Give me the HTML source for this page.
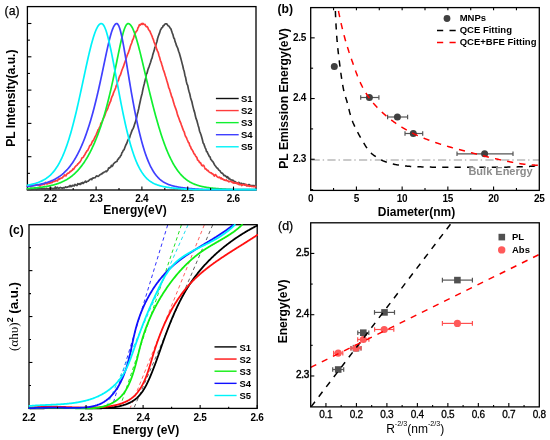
<!DOCTYPE html>
<html><head><meta charset="utf-8"><style>
html,body{margin:0;padding:0;background:#fff;}
body{width:550px;height:440px;position:relative;overflow:hidden;}
</style></head><body>
<svg width="550" height="440" viewBox="0 0 550 440" style="position:absolute;left:0;top:0">
<rect width="550" height="440" fill="#fff"/>
<g font-family="'Liberation Sans', Arial, sans-serif">
<rect x="27.4" y="6.6" width="228.6" height="183.4" fill="none" stroke="#000" stroke-width="1.3"/>
<path d="M27.4,189.4 L28.1,189.37 L28.8,189.35 L29.5,189.32 L30.2,189.6 L30.9,188.12 L31.6,189.43 L32.3,188.95 L33,188.98 L33.7,189.06 L34.4,188.22 L35.1,188.99 L35.8,188.68 L36.5,189.6 L37.2,189.11 L37.9,188.82 L38.6,188.82 L39.3,188.62 L40,188.41 L40.7,188.68 L41.4,189.04 L42.1,188.69 L42.8,189.2 L43.5,188.64 L44.2,188.71 L44.9,189.37 L45.6,188.88 L46.3,188.38 L47,188.49 L47.7,188.78 L48.4,189.38 L49.1,188.36 L49.8,188.34 L50.5,188.87 L51.2,187.99 L51.9,188.23 L52.6,188.73 L53.3,188.56 L54,188.31 L54.7,188.54 L55.4,186.93 L56.1,188.63 L56.8,187.7 L57.5,187.35 L58.2,188.18 L58.9,188.33 L59.6,187.77 L60.3,187.43 L61,187.87 L61.7,187.77 L62.4,188.35 L63.1,187.97 L63.8,187.63 L64.5,187.95 L65.2,187.25 L65.9,186.82 L66.6,187.38 L67.3,187.26 L68,186.78 L68.7,186.41 L69.4,186.74 L70.1,185.39 L70.8,186.68 L71.5,186.45 L72.2,185.34 L72.9,185.94 L73.6,185.31 L74.3,185.92 L75,184.48 L75.7,184.8 L76.4,185.34 L77.1,185.35 L77.8,183.65 L78.5,184.19 L79.2,184.34 L79.9,183.69 L80.6,184.45 L81.3,182.96 L82,183.4 L82.7,182.5 L83.4,183.33 L84.1,182.41 L84.8,181.97 L85.5,181.07 L86.2,182.29 L86.9,181.57 L87.6,181.26 L88.3,181.12 L89,180.45 L89.7,179.69 L90.4,179.29 L91.1,178.97 L91.8,179.63 L92.5,178.03 L93.2,178.08 L93.9,177.87 L94.6,177.78 L95.3,177.59 L96,176.41 L96.7,175.83 L97.4,176.24 L98.1,176.41 L98.8,175.82 L99.5,175.17 L100.2,174.52 L100.9,174.38 L101.6,173.71 L102.3,173.75 L103,172.58 L103.7,172.54 L104.4,171.96 L105.1,171.77 L105.8,171.13 L106.5,171.66 L107.2,170.66 L107.9,170.11 L108.6,167.95 L109.3,168.13 L110,167.41 L110.7,167.3 L111.4,165.39 L112.1,166.28 L112.8,165.55 L113.5,163.78 L114.2,163.19 L114.9,162.51 L115.6,162.1 L116.3,161.55 L117,161.34 L117.7,159.45 L118.4,158.97 L119.1,157.74 L119.8,157.48 L120.5,155.98 L121.2,155.13 L121.9,152.81 L122.6,151.9 L123.3,150.26 L124,149.87 L124.7,148.01 L125.4,146.06 L126.1,144.45 L126.8,143.3 L127.5,141.19 L128.2,139.51 L128.9,138.57 L129.6,137.89 L130.3,135.09 L131,133.34 L131.7,131.41 L132.4,129.62 L133.1,128.67 L133.8,126.94 L134.5,124.58 L135.2,122.63 L135.9,120.29 L136.6,117.77 L137.3,114.21 L138,111.66 L138.7,108.75 L139.4,105.1 L140.1,101.98 L140.8,98.63 L141.5,95.78 L142.2,93.2 L142.9,89.45 L143.6,86.38 L144.3,83.7 L145,80.63 L145.7,78.29 L146.4,74.01 L147.1,72.93 L147.8,70.04 L148.5,68.13 L149.2,66.32 L149.9,64.34 L150.6,62.24 L151.3,59.73 L152,58.22 L152.7,55.12 L153.4,52.83 L154.1,50.83 L154.8,47.77 L155.5,46.53 L156.2,43.58 L156.9,41.74 L157.6,38.48 L158.3,36.19 L159,34.42 L159.7,32.64 L160.4,30.15 L161.1,29.03 L161.8,27.77 L162.5,27.55 L163.2,25.65 L163.9,25.67 L164.6,24.33 L165.3,23.85 L166,23.89 L166.7,23.84 L167.4,24.79 L168.1,25.69 L168.8,25.95 L169.5,26.91 L170.2,28.21 L170.9,28.88 L171.6,30.92 L172.3,33.11 L173,34.78 L173.7,37.84 L174.4,38.65 L175.1,41.64 L175.8,43.23 L176.5,45.65 L177.2,47.04 L177.9,48.69 L178.6,51.28 L179.3,53.03 L180,55.48 L180.7,58.04 L181.4,60.62 L182.1,63.41 L182.8,66.03 L183.5,69.28 L184.2,71.35 L184.9,75.13 L185.6,77.45 L186.3,81.27 L187,84.11 L187.7,85.43 L188.4,89.12 L189.1,91.73 L189.8,94.03 L190.5,97.42 L191.2,99.66 L191.9,101.75 L192.6,105.11 L193.3,107.84 L194,110.61 L194.7,112.64 L195.4,116.06 L196.1,118.67 L196.8,120.33 L197.5,123 L198.2,125.64 L198.9,127.81 L199.6,131.25 L200.3,132.94 L201,134.75 L201.7,137.15 L202.4,139.71 L203.1,142.91 L203.8,143.82 L204.5,145.85 L205.2,147.77 L205.9,149.11 L206.6,151.7 L207.3,151.92 L208,153.92 L208.7,155.04 L209.4,156.57 L210.1,157.04 L210.8,159.59 L211.5,159.91 L212.2,161.1 L212.9,161.73 L213.6,162.84 L214.3,164.39 L215,165.5 L215.7,166.29 L216.4,167.37 L217.1,167.99 L217.8,168.51 L218.5,169.68 L219.2,170.35 L219.9,170.8 L220.6,171.9 L221.3,172.86 L222,173.07 L222.7,173.47 L223.4,174.58 L224.1,175.72 L224.8,175.35 L225.5,175.96 L226.2,176.47 L226.9,177.58 L227.6,176.67 L228.3,178.13 L229,178.96 L229.7,178.51 L230.4,179.99 L231.1,179.99 L231.8,179.92 L232.5,180.67 L233.2,180.28 L233.9,181.09 L234.6,182.52 L235.3,181.63 L236,183.18 L236.7,182.6 L237.4,183.35 L238.1,183.16 L238.8,182.34 L239.5,183.27 L240.2,183.77 L240.9,183.32 L241.6,183.38 L242.3,184.29 L243,183.98 L243.7,183.64 L244.4,184.23 L245.1,185.05 L245.8,184.57 L246.5,185.32 L247.2,185.69 L247.9,185.12 L248.6,184.69 L249.3,184.7 L250,185.35 L250.7,185.43 L251.4,185.48 L252.1,185.53 L252.8,185.56 L253.5,185.59 L254.2,185.6" fill="none" stroke="#484848" stroke-width="1.7" stroke-linejoin="round" stroke-linecap="round" />
<path d="M27.4,186.07 L28.1,186.02 L28.8,185.97 L29.5,185.92 L30.2,186.27 L30.9,185.94 L31.6,186 L32.3,185.5 L33,185.77 L33.7,185.35 L34.4,185.35 L35.1,184.84 L35.8,184.64 L36.5,185.05 L37.2,184.68 L37.9,184.66 L38.6,185.3 L39.3,184.85 L40,186.1 L40.7,185.1 L41.4,184.29 L42.1,184.8 L42.8,184.49 L43.5,183.89 L44.2,184.56 L44.9,183.57 L45.6,182.39 L46.3,183.97 L47,183.17 L47.7,183.95 L48.4,182.81 L49.1,182.38 L49.8,183.41 L50.5,182.03 L51.2,182.39 L51.9,182.73 L52.6,181.89 L53.3,181.56 L54,181.39 L54.7,181.46 L55.4,180.45 L56.1,180.8 L56.8,180.49 L57.5,180.97 L58.2,179.45 L58.9,178.85 L59.6,179.25 L60.3,178.38 L61,178.31 L61.7,177.85 L62.4,177.91 L63.1,176.67 L63.8,176.49 L64.5,174.93 L65.2,175.21 L65.9,175.82 L66.6,174.32 L67.3,173.79 L68,173.03 L68.7,173.28 L69.4,172.53 L70.1,171.32 L70.8,171.55 L71.5,170.73 L72.2,170.3 L72.9,169.01 L73.6,169.39 L74.3,168.08 L75,167.11 L75.7,166.17 L76.4,165.52 L77.1,165.22 L77.8,163.89 L78.5,163.65 L79.2,162.56 L79.9,162.02 L80.6,160.87 L81.3,159.54 L82,157.75 L82.7,157.77 L83.4,156.98 L84.1,155.67 L84.8,154.8 L85.5,153.26 L86.2,152.2 L86.9,150.83 L87.6,150.72 L88.3,149.01 L89,147.52 L89.7,145.92 L90.4,145.21 L91.1,144.67 L91.8,142.94 L92.5,141.1 L93.2,140.74 L93.9,139.38 L94.6,137.81 L95.3,136.32 L96,135.07 L96.7,133.35 L97.4,132 L98.1,129.82 L98.8,129.34 L99.5,127.25 L100.2,126.52 L100.9,123.13 L101.6,122.79 L102.3,121.32 L103,119.11 L103.7,117.84 L104.4,116.33 L105.1,114.6 L105.8,112.42 L106.5,110.91 L107.2,109.72 L107.9,108.12 L108.6,105.86 L109.3,104.1 L110,102.4 L110.7,101 L111.4,98.28 L112.1,96.36 L112.8,95.21 L113.5,92.83 L114.2,91.24 L114.9,89.7 L115.6,88.03 L116.3,85.46 L117,84.43 L117.7,81.39 L118.4,80.54 L119.1,77.67 L119.8,75.89 L120.5,74.83 L121.2,72.41 L121.9,70.29 L122.6,68.48 L123.3,66.92 L124,64.7 L124.7,62.71 L125.4,61.2 L126.1,58.39 L126.8,56.48 L127.5,54.43 L128.2,53.16 L128.9,51.06 L129.6,49.17 L130.3,46.57 L131,44.52 L131.7,43 L132.4,40.5 L133.1,39.16 L133.8,37.26 L134.5,34.84 L135.2,33.42 L135.9,31.8 L136.6,31.13 L137.3,30.14 L138,27.69 L138.7,26.66 L139.4,24.72 L140.1,25.11 L140.8,24.47 L141.5,23.65 L142.2,24.36 L142.9,23.35 L143.6,24.14 L144.3,24.62 L145,24.45 L145.7,25.98 L146.4,26.79 L147.1,26.53 L147.8,27.48 L148.5,29.45 L149.2,30.35 L149.9,31.11 L150.6,32.91 L151.3,34.48 L152,36.03 L152.7,38.12 L153.4,39.65 L154.1,42.07 L154.8,43.76 L155.5,45.37 L156.2,47.52 L156.9,49.66 L157.6,51.45 L158.3,52.69 L159,55.77 L159.7,57.59 L160.4,60.49 L161.1,62.03 L161.8,64.46 L162.5,66.64 L163.2,69.52 L163.9,71.12 L164.6,73.21 L165.3,75.77 L166,77.73 L166.7,80.29 L167.4,82.51 L168.1,84.93 L168.8,87.95 L169.5,89.18 L170.2,91.64 L170.9,93.78 L171.6,96.41 L172.3,97.79 L173,100.21 L173.7,102.69 L174.4,105.11 L175.1,106.99 L175.8,108.9 L176.5,110.83 L177.2,113.52 L177.9,115.98 L178.6,117.49 L179.3,119.41 L180,121.48 L180.7,122.78 L181.4,124.96 L182.1,126.84 L182.8,128.92 L183.5,130.57 L184.2,131.8 L184.9,134.58 L185.6,136.53 L186.3,137.31 L187,139.24 L187.7,140.76 L188.4,142.55 L189.1,143.05 L189.8,145.92 L190.5,146.43 L191.2,148.62 L191.9,149.46 L192.6,150.58 L193.3,152 L194,153.73 L194.7,154.17 L195.4,155.58 L196.1,156.7 L196.8,157.32 L197.5,159.77 L198.2,160.45 L198.9,161.13 L199.6,162.57 L200.3,162.5 L201,163.75 L201.7,165.39 L202.4,165.87 L203.1,165.23 L203.8,165.51 L204.5,167.29 L205.2,168.95 L205.9,168.92 L206.6,169.64 L207.3,170.58 L208,170.45 L208.7,171.46 L209.4,172.22 L210.1,172.55 L210.8,172.97 L211.5,172.96 L212.2,173.89 L212.9,173.87 L213.6,175.05 L214.3,175.99 L215,174.87 L215.7,174.64 L216.4,175.83 L217.1,176.58 L217.8,177.25 L218.5,177.62 L219.2,177.13 L219.9,177.46 L220.6,178.7 L221.3,177.94 L222,179.21 L222.7,178.9 L223.4,179.62 L224.1,179.87 L224.8,180.16 L225.5,180.43 L226.2,179.87 L226.9,180.69 L227.6,180.8 L228.3,181.16 L229,181.8 L229.7,181.34 L230.4,181.35 L231.1,181.55 L231.8,181.94 L232.5,182.62 L233.2,182.1 L233.9,183.18 L234.6,182.97 L235.3,182.92 L236,182.59 L236.7,183.47 L237.4,183.84 L238.1,182.9 L238.8,184.39 L239.5,184.76 L240.2,184.32 L240.9,184.55 L241.6,185.56 L242.3,185.18 L243,184.37 L243.7,184.91 L244.4,184.99 L245.1,185.13 L245.8,184.27 L246.5,185.81 L247.2,185.31 L247.9,185.79 L248.6,185.78 L249.3,186.35 L250,185.94 L250.7,186.18 L251.4,186.29 L252.1,186.39 L252.8,186.49 L253.5,186.58 L254.2,186.66 L254.9,186.66 L255.6,186.66" fill="none" stroke="#ff3c3c" stroke-width="1.7" stroke-linejoin="round" stroke-linecap="round" />
<path d="M27.4,188.57 L27.9,188.54 L28.4,188.5 L28.9,188.46 L29.4,188.43 L29.9,188.39 L30.4,188.35 L30.9,188.31 L31.4,188.27 L31.9,188.22 L32.4,188.18 L32.9,188.14 L33.4,188.09 L33.9,188.05 L34.4,188 L34.9,187.95 L35.4,187.9 L35.9,187.85 L36.4,187.8 L36.9,187.75 L37.4,187.7 L37.9,187.64 L38.4,187.59 L38.9,187.53 L39.4,187.47 L39.9,187.41 L40.4,187.35 L40.9,187.28 L41.4,187.22 L41.9,187.15 L42.4,187.08 L42.9,187.01 L43.4,186.94 L43.9,186.86 L44.4,186.79 L44.9,186.71 L45.4,186.63 L45.9,186.54 L46.4,186.46 L46.9,186.37 L47.4,186.28 L47.9,186.18 L48.4,186.09 L48.9,185.99 L49.4,185.89 L49.9,185.78 L50.4,185.67 L50.9,185.56 L51.4,185.45 L51.9,185.33 L52.4,185.21 L52.9,185.08 L53.4,184.95 L53.9,184.82 L54.4,184.68 L54.9,184.54 L55.4,184.39 L55.9,184.24 L56.4,184.08 L56.9,183.92 L57.4,183.76 L57.9,183.59 L58.4,183.41 L58.9,183.23 L59.4,183.04 L59.9,182.85 L60.4,182.65 L60.9,182.45 L61.4,182.24 L61.9,182.02 L62.4,181.79 L62.9,181.56 L63.4,181.32 L63.9,181.08 L64.4,180.82 L64.9,180.56 L65.4,180.29 L65.9,180.02 L66.4,179.73 L66.9,179.44 L67.4,179.13 L67.9,178.82 L68.4,178.5 L68.9,178.17 L69.4,177.83 L69.9,177.48 L70.4,177.12 L70.9,176.75 L71.4,176.37 L71.9,175.98 L72.4,175.57 L72.9,175.16 L73.4,174.73 L73.9,174.29 L74.4,173.84 L74.9,173.38 L75.4,172.91 L75.9,172.42 L76.4,171.92 L76.9,171.4 L77.4,170.88 L77.9,170.33 L78.4,169.78 L78.9,169.21 L79.4,168.62 L79.9,168.02 L80.4,167.41 L80.9,166.78 L81.4,166.14 L81.9,165.48 L82.4,164.8 L82.9,164.11 L83.4,163.4 L83.9,162.67 L84.4,161.93 L84.9,161.16 L85.4,160.39 L85.9,159.59 L86.4,158.77 L86.9,157.94 L87.4,157.09 L87.9,156.22 L88.4,155.33 L88.9,154.42 L89.4,153.49 L89.9,152.54 L90.4,151.57 L90.9,150.58 L91.4,149.57 L91.9,148.54 L92.4,147.49 L92.9,146.41 L93.4,145.31 L93.9,144.19 L94.4,143.05 L94.9,141.88 L95.4,140.69 L95.9,139.48 L96.4,138.24 L96.9,136.97 L97.4,135.68 L97.9,134.37 L98.4,133.03 L98.9,131.66 L99.4,130.26 L99.9,128.84 L100.4,127.39 L100.9,125.91 L101.4,124.4 L101.9,122.86 L102.4,121.28 L102.9,119.68 L103.4,118.05 L103.9,116.38 L104.4,114.68 L104.9,112.95 L105.4,111.18 L105.9,109.38 L106.4,107.54 L106.9,105.67 L107.4,103.76 L107.9,101.81 L108.4,99.83 L108.9,97.81 L109.4,95.75 L109.9,93.66 L110.4,91.53 L110.9,89.36 L111.4,87.15 L111.9,84.91 L112.4,82.64 L112.9,80.33 L113.4,78 L113.9,75.63 L114.4,73.24 L114.9,70.82 L115.4,68.39 L115.9,65.94 L116.4,63.48 L116.9,61.01 L117.4,58.54 L117.9,56.08 L118.4,53.64 L118.9,51.22 L119.4,48.83 L119.9,46.48 L120.4,44.18 L120.9,41.95 L121.4,39.79 L121.9,37.71 L122.4,35.74 L122.9,33.87 L123.4,32.12 L123.9,30.51 L124.4,29.04 L124.9,27.73 L125.4,26.58 L125.9,25.61 L126.4,24.83 L126.9,24.23 L127.4,23.83 L127.9,23.63 L128.4,23.61 L128.9,23.74 L129.4,23.98 L129.9,24.35 L130.4,24.83 L130.9,25.44 L131.4,26.16 L131.9,26.99 L132.4,27.93 L132.9,28.97 L133.4,30.11 L133.9,31.34 L134.4,32.67 L134.9,34.07 L135.4,35.56 L135.9,37.12 L136.4,38.75 L136.9,40.44 L137.4,42.19 L137.9,43.99 L138.4,45.84 L138.9,47.74 L139.4,49.67 L139.9,51.64 L140.4,53.64 L140.9,55.66 L141.4,57.71 L141.9,59.78 L142.4,61.87 L142.9,63.97 L143.4,66.08 L143.9,68.19 L144.4,70.32 L144.9,72.44 L145.4,74.57 L145.9,76.69 L146.4,78.82 L146.9,80.94 L147.4,83.05 L147.9,85.15 L148.4,87.24 L148.9,89.33 L149.4,91.4 L149.9,93.46 L150.4,95.5 L150.9,97.53 L151.4,99.54 L151.9,101.53 L152.4,103.51 L152.9,105.46 L153.4,107.4 L153.9,109.32 L154.4,111.21 L154.9,113.08 L155.4,114.93 L155.9,116.76 L156.4,118.56 L156.9,120.34 L157.4,122.09 L157.9,123.82 L158.4,125.53 L158.9,127.21 L159.4,128.86 L159.9,130.48 L160.4,132.08 L160.9,133.65 L161.4,135.2 L161.9,136.71 L162.4,138.2 L162.9,139.66 L163.4,141.09 L163.9,142.5 L164.4,143.88 L164.9,145.23 L165.4,146.55 L165.9,147.84 L166.4,149.1 L166.9,150.34 L167.4,151.55 L167.9,152.73 L168.4,153.89 L168.9,155.01 L169.4,156.11 L169.9,157.19 L170.4,158.23 L170.9,159.25 L171.4,160.24 L171.9,161.21 L172.4,162.15 L172.9,163.07 L173.4,163.96 L173.9,164.83 L174.4,165.67 L174.9,166.49 L175.4,167.28 L175.9,168.05 L176.4,168.8 L176.9,169.53 L177.4,170.23 L177.9,170.91 L178.4,171.57 L178.9,172.21 L179.4,172.83 L179.9,173.44 L180.4,174.02 L180.9,174.58 L181.4,175.12 L181.9,175.65 L182.4,176.15 L182.9,176.64 L183.4,177.12 L183.9,177.58 L184.4,178.02 L184.9,178.44 L185.4,178.85 L185.9,179.25 L186.4,179.63 L186.9,180 L187.4,180.36 L187.9,180.7 L188.4,181.03 L188.9,181.34 L189.4,181.65 L189.9,181.94 L190.4,182.23 L190.9,182.5 L191.4,182.76 L191.9,183.02 L192.4,183.26 L192.9,183.49 L193.4,183.72 L193.9,183.93 L194.4,184.14 L194.9,184.34 L195.4,184.53 L195.9,184.72 L196.4,184.9 L196.9,185.07 L197.4,185.23 L197.9,185.39 L198.4,185.54 L198.9,185.69 L199.4,185.83 L199.9,185.97 L200.4,186.1 L200.9,186.22 L201.4,186.34 L201.9,186.46 L202.4,186.57 L202.9,186.68 L203.4,186.78 L203.9,186.88 L204.4,186.98 L204.9,187.07 L205.4,187.16 L205.9,187.25 L206.4,187.34 L206.9,187.42 L207.4,187.49 L207.9,187.57 L208.4,187.64 L208.9,187.71 L209.4,187.78 L209.9,187.85 L210.4,187.91 L210.9,187.97 L211.4,188.03 L211.9,188.09 L212.4,188.15 L212.9,188.2 L213.4,188.26 L213.9,188.31 L214.4,188.36 L214.9,188.41 L215.4,188.45 L215.9,188.5 L216.4,188.55 L216.9,188.59 L217.4,188.63 L217.9,188.67 L218.4,188.71 L218.9,188.75 L219.4,188.79 L219.9,188.83 L220.4,188.87 L220.9,188.9 L221.4,188.94 L221.9,188.97 L222.4,189.01 L222.9,189.04 L223.4,189.07 L223.9,189.1 L224.4,189.13 L224.9,189.16 L225.4,189.19 L225.9,189.22 L226.4,189.25 L226.9,189.28 L227.4,189.31 L227.9,189.33 L228.4,189.36 L228.9,189.39 L229.4,189.41 L229.9,189.44 L230.4,189.46 L230.9,189.49 L231.4,189.51 L231.9,189.54 L232.4,189.56 L232.9,189.58 L233.4,189.6 L233.9,189.6 L234.4,189.6 L234.9,189.6 L235.4,189.6 L235.9,189.6 L236.4,189.6 L236.9,189.6 L237.4,189.6 L237.9,189.6 L238.4,189.6 L238.9,189.6 L239.4,189.6 L239.9,189.6 L240.4,189.6 L240.9,189.6 L241.4,189.6 L241.9,189.6 L242.4,189.6 L242.9,189.6 L243.4,189.6 L243.9,189.6 L244.4,189.6 L244.9,189.6 L245.4,189.6 L245.9,189.6 L246.4,189.6 L246.9,189.6 L247.4,189.6 L247.9,189.6 L248.4,189.6 L248.9,189.6 L249.4,189.6 L249.9,189.6 L250.4,189.6 L250.9,189.6 L251.4,189.6 L251.9,189.6 L252.4,189.6 L252.9,189.6 L253.4,189.6 L253.9,189.6 L254.4,189.6 L254.9,189.6 L255.4,189.6 L255.9,189.6" fill="none" stroke="#10f030" stroke-width="1.7" stroke-linejoin="round" stroke-linecap="round" />
<path d="M27.4,186.49 L27.9,186.43 L28.4,186.36 L28.9,186.3 L29.4,186.23 L29.9,186.16 L30.4,186.09 L30.9,186.02 L31.4,185.95 L31.9,185.87 L32.4,185.8 L32.9,185.72 L33.4,185.64 L33.9,185.56 L34.4,185.47 L34.9,185.39 L35.4,185.3 L35.9,185.21 L36.4,185.12 L36.9,185.03 L37.4,184.93 L37.9,184.83 L38.4,184.73 L38.9,184.63 L39.4,184.52 L39.9,184.41 L40.4,184.3 L40.9,184.19 L41.4,184.07 L41.9,183.95 L42.4,183.82 L42.9,183.69 L43.4,183.56 L43.9,183.43 L44.4,183.29 L44.9,183.14 L45.4,183 L45.9,182.85 L46.4,182.69 L46.9,182.53 L47.4,182.36 L47.9,182.19 L48.4,182.02 L48.9,181.84 L49.4,181.65 L49.9,181.46 L50.4,181.26 L50.9,181.06 L51.4,180.85 L51.9,180.63 L52.4,180.41 L52.9,180.18 L53.4,179.94 L53.9,179.7 L54.4,179.45 L54.9,179.19 L55.4,178.92 L55.9,178.64 L56.4,178.36 L56.9,178.07 L57.4,177.76 L57.9,177.45 L58.4,177.13 L58.9,176.8 L59.4,176.46 L59.9,176.11 L60.4,175.74 L60.9,175.37 L61.4,174.98 L61.9,174.59 L62.4,174.18 L62.9,173.75 L63.4,173.32 L63.9,172.87 L64.4,172.41 L64.9,171.94 L65.4,171.45 L65.9,170.94 L66.4,170.43 L66.9,169.89 L67.4,169.35 L67.9,168.78 L68.4,168.2 L68.9,167.6 L69.4,166.99 L69.9,166.36 L70.4,165.71 L70.9,165.05 L71.4,164.36 L71.9,163.66 L72.4,162.94 L72.9,162.2 L73.4,161.43 L73.9,160.65 L74.4,159.85 L74.9,159.03 L75.4,158.18 L75.9,157.32 L76.4,156.43 L76.9,155.52 L77.4,154.59 L77.9,153.63 L78.4,152.65 L78.9,151.65 L79.4,150.63 L79.9,149.57 L80.4,148.5 L80.9,147.4 L81.4,146.27 L81.9,145.11 L82.4,143.93 L82.9,142.73 L83.4,141.49 L83.9,140.23 L84.4,138.94 L84.9,137.63 L85.4,136.28 L85.9,134.9 L86.4,133.5 L86.9,132.07 L87.4,130.6 L87.9,129.11 L88.4,127.58 L88.9,126.02 L89.4,124.43 L89.9,122.81 L90.4,121.16 L90.9,119.48 L91.4,117.76 L91.9,116.01 L92.4,114.22 L92.9,112.41 L93.4,110.55 L93.9,108.67 L94.4,106.75 L94.9,104.8 L95.4,102.81 L95.9,100.8 L96.4,98.74 L96.9,96.66 L97.4,94.54 L97.9,92.4 L98.4,90.22 L98.9,88.01 L99.4,85.78 L99.9,83.52 L100.4,81.23 L100.9,78.92 L101.4,76.59 L101.9,74.24 L102.4,71.88 L102.9,69.5 L103.4,67.12 L103.9,64.73 L104.4,62.35 L104.9,59.97 L105.4,57.6 L105.9,55.25 L106.4,52.92 L106.9,50.62 L107.4,48.36 L107.9,46.14 L108.4,43.98 L108.9,41.88 L109.4,39.85 L109.9,37.9 L110.4,36.04 L110.9,34.27 L111.4,32.61 L111.9,31.07 L112.4,29.65 L112.9,28.37 L113.4,27.22 L113.9,26.22 L114.4,25.38 L114.9,24.69 L115.4,24.17 L115.9,23.82 L116.4,23.63 L116.9,23.62 L117.4,23.87 L117.9,24.4 L118.4,25.18 L118.9,26.23 L119.4,27.52 L119.9,29.04 L120.4,30.78 L120.9,32.73 L121.4,34.86 L121.9,37.15 L122.4,39.59 L122.9,42.16 L123.4,44.85 L123.9,47.63 L124.4,50.49 L124.9,53.42 L125.4,56.39 L125.9,59.41 L126.4,62.45 L126.9,65.51 L127.4,68.58 L127.9,71.64 L128.4,74.7 L128.9,77.74 L129.4,80.76 L129.9,83.76 L130.4,86.72 L130.9,89.65 L131.4,92.55 L131.9,95.4 L132.4,98.22 L132.9,100.99 L133.4,103.71 L133.9,106.39 L134.4,109.01 L134.9,111.59 L135.4,114.12 L135.9,116.6 L136.4,119.02 L136.9,121.4 L137.4,123.72 L137.9,125.99 L138.4,128.2 L138.9,130.36 L139.4,132.47 L139.9,134.53 L140.4,136.53 L140.9,138.48 L141.4,140.38 L141.9,142.22 L142.4,144.01 L142.9,145.75 L143.4,147.44 L143.9,149.08 L144.4,150.67 L144.9,152.2 L145.4,153.69 L145.9,155.13 L146.4,156.52 L146.9,157.87 L147.4,159.16 L147.9,160.42 L148.4,161.62 L148.9,162.79 L149.4,163.91 L149.9,164.99 L150.4,166.02 L150.9,167.02 L151.4,167.98 L151.9,168.9 L152.4,169.78 L152.9,170.63 L153.4,171.44 L153.9,172.22 L154.4,172.97 L154.9,173.68 L155.4,174.37 L155.9,175.02 L156.4,175.64 L156.9,176.24 L157.4,176.81 L157.9,177.36 L158.4,177.88 L158.9,178.37 L159.4,178.85 L159.9,179.3 L160.4,179.73 L160.9,180.14 L161.4,180.53 L161.9,180.91 L162.4,181.26 L162.9,181.6 L163.4,181.92 L163.9,182.23 L164.4,182.53 L164.9,182.81 L165.4,183.07 L165.9,183.33 L166.4,183.57 L166.9,183.8 L167.4,184.02 L167.9,184.23 L168.4,184.43 L168.9,184.63 L169.4,184.81 L169.9,184.98 L170.4,185.15 L170.9,185.31 L171.4,185.47 L171.9,185.61 L172.4,185.75 L172.9,185.89 L173.4,186.02 L173.9,186.14 L174.4,186.26 L174.9,186.38 L175.4,186.49 L175.9,186.59 L176.4,186.7 L176.9,186.8 L177.4,186.89 L177.9,186.98 L178.4,187.07 L178.9,187.16 L179.4,187.24 L179.9,187.32 L180.4,187.4 L180.9,187.47 L181.4,187.55 L181.9,187.62 L182.4,187.69 L182.9,187.75 L183.4,187.82 L183.9,187.88 L184.4,187.94 L184.9,188 L185.4,188.06 L185.9,188.12 L186.4,188.18 L186.9,188.23 L187.4,188.28 L187.9,188.33 L188.4,188.38 L188.9,188.43 L189.4,188.48 L189.9,188.53 L190.4,188.58 L190.9,188.62 L191.4,188.66 L191.9,188.71 L192.4,188.75 L192.9,188.79 L193.4,188.83 L193.9,188.87 L194.4,188.91 L194.9,188.95 L195.4,188.99 L195.9,189.02 L196.4,189.06 L196.9,189.1 L197.4,189.13 L197.9,189.17 L198.4,189.2 L198.9,189.23 L199.4,189.26 L199.9,189.3 L200.4,189.33 L200.9,189.36 L201.4,189.39 L201.9,189.42 L202.4,189.45 L202.9,189.48 L203.4,189.51 L203.9,189.53 L204.4,189.56 L204.9,189.59 L205.4,189.6 L205.9,189.6 L206.4,189.6 L206.9,189.6 L207.4,189.6 L207.9,189.6 L208.4,189.6 L208.9,189.6 L209.4,189.6 L209.9,189.6 L210.4,189.6 L210.9,189.6 L211.4,189.6 L211.9,189.6 L212.4,189.6 L212.9,189.6 L213.4,189.6 L213.9,189.6 L214.4,189.6 L214.9,189.6 L215.4,189.6 L215.9,189.6 L216.4,189.6 L216.9,189.6 L217.4,189.6 L217.9,189.6 L218.4,189.6 L218.9,189.6 L219.4,189.6 L219.9,189.6 L220.4,189.6 L220.9,189.6 L221.4,189.6 L221.9,189.6 L222.4,189.6 L222.9,189.6 L223.4,189.6 L223.9,189.6 L224.4,189.6 L224.9,189.6 L225.4,189.6 L225.9,189.6 L226.4,189.6 L226.9,189.6 L227.4,189.6 L227.9,189.6 L228.4,189.6 L228.9,189.6 L229.4,189.6 L229.9,189.6 L230.4,189.6 L230.9,189.6 L231.4,189.6 L231.9,189.6 L232.4,189.6 L232.9,189.6 L233.4,189.6 L233.9,189.6 L234.4,189.6 L234.9,189.6 L235.4,189.6 L235.9,189.6 L236.4,189.6 L236.9,189.6 L237.4,189.6 L237.9,189.6 L238.4,189.6 L238.9,189.6 L239.4,189.6 L239.9,189.6 L240.4,189.6 L240.9,189.6 L241.4,189.6 L241.9,189.6 L242.4,189.6 L242.9,189.6 L243.4,189.6 L243.9,189.6 L244.4,189.6 L244.9,189.6 L245.4,189.6 L245.9,189.6 L246.4,189.6 L246.9,189.6 L247.4,189.6 L247.9,189.6 L248.4,189.6 L248.9,189.6 L249.4,189.6 L249.9,189.6 L250.4,189.6 L250.9,189.6 L251.4,189.6 L251.9,189.6 L252.4,189.6 L252.9,189.6 L253.4,189.6 L253.9,189.6 L254.4,189.6 L254.9,189.6 L255.4,189.6 L255.9,189.6" fill="none" stroke="#4040ff" stroke-width="1.7" stroke-linejoin="round" stroke-linecap="round" />
<path d="M27.4,185.25 L27.9,185.16 L28.4,185.06 L28.9,184.96 L29.4,184.86 L29.9,184.76 L30.4,184.65 L30.9,184.54 L31.4,184.42 L31.9,184.3 L32.4,184.18 L32.9,184.06 L33.4,183.93 L33.9,183.79 L34.4,183.66 L34.9,183.51 L35.4,183.37 L35.9,183.21 L36.4,183.06 L36.9,182.89 L37.4,182.72 L37.9,182.55 L38.4,182.36 L38.9,182.18 L39.4,181.98 L39.9,181.78 L40.4,181.57 L40.9,181.35 L41.4,181.12 L41.9,180.88 L42.4,180.63 L42.9,180.38 L43.4,180.11 L43.9,179.84 L44.4,179.55 L44.9,179.25 L45.4,178.94 L45.9,178.61 L46.4,178.28 L46.9,177.92 L47.4,177.56 L47.9,177.18 L48.4,176.78 L48.9,176.37 L49.4,175.94 L49.9,175.5 L50.4,175.04 L50.9,174.55 L51.4,174.05 L51.9,173.53 L52.4,172.99 L52.9,172.43 L53.4,171.84 L53.9,171.23 L54.4,170.6 L54.9,169.95 L55.4,169.27 L55.9,168.56 L56.4,167.83 L56.9,167.07 L57.4,166.29 L57.9,165.47 L58.4,164.63 L58.9,163.75 L59.4,162.85 L59.9,161.92 L60.4,160.95 L60.9,159.95 L61.4,158.92 L61.9,157.85 L62.4,156.75 L62.9,155.62 L63.4,154.45 L63.9,153.24 L64.4,152 L64.9,150.72 L65.4,149.4 L65.9,148.05 L66.4,146.66 L66.9,145.23 L67.4,143.77 L67.9,142.26 L68.4,140.72 L68.9,139.14 L69.4,137.53 L69.9,135.87 L70.4,134.18 L70.9,132.44 L71.4,130.68 L71.9,128.87 L72.4,127.03 L72.9,125.15 L73.4,123.24 L73.9,121.29 L74.4,119.31 L74.9,117.3 L75.4,115.26 L75.9,113.18 L76.4,111.08 L76.9,108.94 L77.4,106.78 L77.9,104.6 L78.4,102.39 L78.9,100.16 L79.4,97.9 L79.9,95.63 L80.4,93.35 L80.9,91.04 L81.4,88.73 L81.9,86.41 L82.4,84.07 L82.9,81.74 L83.4,79.4 L83.9,77.06 L84.4,74.73 L84.9,72.4 L85.4,70.08 L85.9,67.77 L86.4,65.49 L86.9,63.22 L87.4,60.97 L87.9,58.75 L88.4,56.56 L88.9,54.41 L89.4,52.3 L89.9,50.23 L90.4,48.2 L90.9,46.23 L91.4,44.31 L91.9,42.45 L92.4,40.66 L92.9,38.93 L93.4,37.28 L93.9,35.7 L94.4,34.21 L94.9,32.79 L95.4,31.47 L95.9,30.24 L96.4,29.1 L96.9,28.07 L97.4,27.13 L97.9,26.3 L98.4,25.58 L98.9,24.97 L99.4,24.46 L99.9,24.08 L100.4,23.8 L100.9,23.64 L101.4,23.6 L101.9,23.71 L102.4,23.98 L102.9,24.41 L103.4,25.01 L103.9,25.77 L104.4,26.69 L104.9,27.75 L105.4,28.96 L105.9,30.31 L106.4,31.8 L106.9,33.41 L107.4,35.14 L107.9,36.98 L108.4,38.93 L108.9,40.98 L109.4,43.12 L109.9,45.33 L110.4,47.63 L110.9,49.99 L111.4,52.42 L111.9,54.89 L112.4,57.42 L112.9,59.99 L113.4,62.59 L113.9,65.23 L114.4,67.88 L114.9,70.56 L115.4,73.25 L115.9,75.95 L116.4,78.65 L116.9,81.36 L117.4,84.06 L117.9,86.75 L118.4,89.43 L118.9,92.1 L119.4,94.75 L119.9,97.38 L120.4,99.98 L120.9,102.56 L121.4,105.11 L121.9,107.63 L122.4,110.12 L122.9,112.57 L123.4,114.98 L123.9,117.36 L124.4,119.69 L124.9,121.99 L125.4,124.24 L125.9,126.44 L126.4,128.61 L126.9,130.72 L127.4,132.79 L127.9,134.81 L128.4,136.79 L128.9,138.71 L129.4,140.59 L129.9,142.41 L130.4,144.19 L130.9,145.92 L131.4,147.6 L131.9,149.23 L132.4,150.81 L132.9,152.35 L133.4,153.83 L133.9,155.27 L134.4,156.66 L134.9,158.01 L135.4,159.31 L135.9,160.56 L136.4,161.77 L136.9,162.94 L137.4,164.06 L137.9,165.14 L138.4,166.18 L138.9,167.18 L139.4,168.14 L139.9,169.06 L140.4,169.95 L140.9,170.8 L141.4,171.61 L141.9,172.39 L142.4,173.14 L142.9,173.86 L143.4,174.54 L143.9,175.19 L144.4,175.82 L144.9,176.42 L145.4,176.99 L145.9,177.53 L146.4,178.05 L146.9,178.55 L147.4,179.02 L147.9,179.47 L148.4,179.9 L148.9,180.31 L149.4,180.7 L149.9,181.07 L150.4,181.43 L150.9,181.76 L151.4,182.09 L151.9,182.39 L152.4,182.68 L152.9,182.96 L153.4,183.22 L153.9,183.48 L154.4,183.72 L154.9,183.94 L155.4,184.16 L155.9,184.37 L156.4,184.57 L156.9,184.76 L157.4,184.94 L157.9,185.11 L158.4,185.27 L158.9,185.43 L159.4,185.58 L159.9,185.72 L160.4,185.86 L160.9,185.99 L161.4,186.12 L161.9,186.24 L162.4,186.35 L162.9,186.47 L163.4,186.57 L163.9,186.67 L164.4,186.77 L164.9,186.87 L165.4,186.96 L165.9,187.05 L166.4,187.13 L166.9,187.22 L167.4,187.3 L167.9,187.37 L168.4,187.45 L168.9,187.52 L169.4,187.59 L169.9,187.66 L170.4,187.72 L170.9,187.79 L171.4,187.85 L171.9,187.91 L172.4,187.97 L172.9,188.02 L173.4,188.08 L173.9,188.13 L174.4,188.19 L174.9,188.24 L175.4,188.29 L175.9,188.34 L176.4,188.38 L176.9,188.43 L177.4,188.48 L177.9,188.52 L178.4,188.57 L178.9,188.61 L179.4,188.65 L179.9,188.69 L180.4,188.73 L180.9,188.77 L181.4,188.81 L181.9,188.85 L182.4,188.89 L182.9,188.92 L183.4,188.96 L183.9,188.99 L184.4,189.03 L184.9,189.06 L185.4,189.1 L185.9,189.13 L186.4,189.16 L186.9,189.19 L187.4,189.22 L187.9,189.25 L188.4,189.29 L188.9,189.31 L189.4,189.34 L189.9,189.37 L190.4,189.4 L190.9,189.43 L191.4,189.46 L191.9,189.48 L192.4,189.51 L192.9,189.54 L193.4,189.56 L193.9,189.59 L194.4,189.6 L194.9,189.6 L195.4,189.6 L195.9,189.6 L196.4,189.6 L196.9,189.6 L197.4,189.6 L197.9,189.6 L198.4,189.6 L198.9,189.6 L199.4,189.6 L199.9,189.6 L200.4,189.6 L200.9,189.6 L201.4,189.6 L201.9,189.6 L202.4,189.6 L202.9,189.6 L203.4,189.6 L203.9,189.6 L204.4,189.6 L204.9,189.6 L205.4,189.6 L205.9,189.6 L206.4,189.6 L206.9,189.6 L207.4,189.6 L207.9,189.6 L208.4,189.6 L208.9,189.6 L209.4,189.6 L209.9,189.6 L210.4,189.6 L210.9,189.6 L211.4,189.6 L211.9,189.6 L212.4,189.6 L212.9,189.6 L213.4,189.6 L213.9,189.6 L214.4,189.6 L214.9,189.6 L215.4,189.6 L215.9,189.6 L216.4,189.6 L216.9,189.6 L217.4,189.6 L217.9,189.6 L218.4,189.6 L218.9,189.6 L219.4,189.6 L219.9,189.6 L220.4,189.6 L220.9,189.6 L221.4,189.6 L221.9,189.6 L222.4,189.6 L222.9,189.6 L223.4,189.6 L223.9,189.6 L224.4,189.6 L224.9,189.6 L225.4,189.6 L225.9,189.6 L226.4,189.6 L226.9,189.6 L227.4,189.6 L227.9,189.6 L228.4,189.6 L228.9,189.6 L229.4,189.6 L229.9,189.6 L230.4,189.6 L230.9,189.6 L231.4,189.6 L231.9,189.6 L232.4,189.6 L232.9,189.6 L233.4,189.6 L233.9,189.6 L234.4,189.6 L234.9,189.6 L235.4,189.6 L235.9,189.6 L236.4,189.6 L236.9,189.6 L237.4,189.6 L237.9,189.6 L238.4,189.6 L238.9,189.6 L239.4,189.6 L239.9,189.6 L240.4,189.6 L240.9,189.6 L241.4,189.6 L241.9,189.6 L242.4,189.6 L242.9,189.6 L243.4,189.6 L243.9,189.6 L244.4,189.6 L244.9,189.6 L245.4,189.6 L245.9,189.6 L246.4,189.6 L246.9,189.6 L247.4,189.6 L247.9,189.6 L248.4,189.6 L248.9,189.6 L249.4,189.6 L249.9,189.6 L250.4,189.6 L250.9,189.6 L251.4,189.6 L251.9,189.6 L252.4,189.6 L252.9,189.6 L253.4,189.6 L253.9,189.6 L254.4,189.6 L254.9,189.6 L255.4,189.6 L255.9,189.6" fill="none" stroke="#00f2f8" stroke-width="1.7" stroke-linejoin="round" stroke-linecap="round" />
<line x1="27.4" y1="173.35" x2="29.9" y2="173.35" stroke="#000" stroke-width="1.1" />
<line x1="27.4" y1="156.7" x2="31.4" y2="156.7" stroke="#000" stroke-width="1.1" />
<line x1="27.4" y1="140.05" x2="29.9" y2="140.05" stroke="#000" stroke-width="1.1" />
<line x1="27.4" y1="123.4" x2="31.4" y2="123.4" stroke="#000" stroke-width="1.1" />
<line x1="27.4" y1="106.75" x2="29.9" y2="106.75" stroke="#000" stroke-width="1.1" />
<line x1="27.4" y1="90.1" x2="31.4" y2="90.1" stroke="#000" stroke-width="1.1" />
<line x1="27.4" y1="73.45" x2="29.9" y2="73.45" stroke="#000" stroke-width="1.1" />
<line x1="27.4" y1="56.8" x2="31.4" y2="56.8" stroke="#000" stroke-width="1.1" />
<line x1="27.4" y1="40.15" x2="29.9" y2="40.15" stroke="#000" stroke-width="1.1" />
<line x1="27.4" y1="23.5" x2="31.4" y2="23.5" stroke="#000" stroke-width="1.1" />
<line x1="50.3" y1="190" x2="50.3" y2="186.6" stroke="#000" stroke-width="1.1" />
<line x1="73.2" y1="190" x2="73.2" y2="188" stroke="#000" stroke-width="1.1" />
<line x1="96.1" y1="190" x2="96.1" y2="186.6" stroke="#000" stroke-width="1.1" />
<line x1="119" y1="190" x2="119" y2="188" stroke="#000" stroke-width="1.1" />
<line x1="141.9" y1="190" x2="141.9" y2="186.6" stroke="#000" stroke-width="1.1" />
<line x1="164.8" y1="190" x2="164.8" y2="188" stroke="#000" stroke-width="1.1" />
<line x1="187.7" y1="190" x2="187.7" y2="186.6" stroke="#000" stroke-width="1.1" />
<line x1="210.6" y1="190" x2="210.6" y2="188" stroke="#000" stroke-width="1.1" />
<line x1="233.5" y1="190" x2="233.5" y2="186.6" stroke="#000" stroke-width="1.1" />
<text x="50.15" y="201.8" font-size="10" font-weight="bold" text-anchor="middle" fill="#000"  letter-spacing="-0.3">2.2</text>
<text x="95.95" y="201.8" font-size="10" font-weight="bold" text-anchor="middle" fill="#000"  letter-spacing="-0.3">2.3</text>
<text x="141.75" y="201.8" font-size="10" font-weight="bold" text-anchor="middle" fill="#000"  letter-spacing="-0.3">2.4</text>
<text x="187.55" y="201.8" font-size="10" font-weight="bold" text-anchor="middle" fill="#000"  letter-spacing="-0.3">2.5</text>
<text x="233.35" y="201.8" font-size="10" font-weight="bold" text-anchor="middle" fill="#000"  letter-spacing="-0.3">2.6</text>
<line x1="215.9" y1="98.5" x2="238.7" y2="98.5" stroke="#111" stroke-width="1.4" />
<text x="241" y="102.1" font-size="9.5" font-weight="bold" text-anchor="start" fill="#000" >S1</text>
<line x1="215.9" y1="110.57" x2="238.7" y2="110.57" stroke="#ff3c3c" stroke-width="1.4" />
<text x="241" y="114.17" font-size="9.5" font-weight="bold" text-anchor="start" fill="#000" >S2</text>
<line x1="215.9" y1="122.64" x2="238.7" y2="122.64" stroke="#10f030" stroke-width="1.4" />
<text x="241" y="126.24" font-size="9.5" font-weight="bold" text-anchor="start" fill="#000" >S3</text>
<line x1="215.9" y1="134.71" x2="238.7" y2="134.71" stroke="#4040ff" stroke-width="1.4" />
<text x="241" y="138.31" font-size="9.5" font-weight="bold" text-anchor="start" fill="#000" >S4</text>
<line x1="215.9" y1="146.78" x2="238.7" y2="146.78" stroke="#00f2f8" stroke-width="1.4" />
<text x="241" y="150.38" font-size="9.5" font-weight="bold" text-anchor="start" fill="#000" >S5</text>
<text x="135" y="214" font-size="12" font-weight="bold" text-anchor="middle" fill="#000" >Energy(eV)</text>
<text x="14.7" y="98.2" font-size="12.1" font-weight="bold" text-anchor="middle" fill="#000" transform="rotate(-90 14.7 98.2)">PL Intensity(a.u.)</text>
<text x="4.6" y="15.3" font-size="12.2" font-weight="normal" text-anchor="start" fill="#000" stroke="#000" stroke-width="0.25">(a)</text>
<line x1="310.7" y1="160" x2="539.3" y2="160" stroke="#969696" stroke-width="1.15" stroke-dasharray="8.2 2.9 1.4 3.3" stroke-dashoffset="14.9"/>
<circle cx="334.3" cy="66.6" r="3.5" fill="#404040"/>
<line x1="360.7" y1="97.5" x2="378.9" y2="97.5" stroke="#555" stroke-width="1.2" />
<line x1="360.7" y1="95.3" x2="360.7" y2="99.7" stroke="#555" stroke-width="1.2" />
<line x1="378.9" y1="95.3" x2="378.9" y2="99.7" stroke="#555" stroke-width="1.2" />
<circle cx="369.4" cy="97.5" r="3.5" fill="#404040"/>
<line x1="387.6" y1="117" x2="407.6" y2="117" stroke="#555" stroke-width="1.2" />
<line x1="387.6" y1="114.8" x2="387.6" y2="119.2" stroke="#555" stroke-width="1.2" />
<line x1="407.6" y1="114.8" x2="407.6" y2="119.2" stroke="#555" stroke-width="1.2" />
<circle cx="397.4" cy="117" r="3.5" fill="#404040"/>
<line x1="405" y1="133.5" x2="422.7" y2="133.5" stroke="#555" stroke-width="1.2" />
<line x1="405" y1="131.3" x2="405" y2="135.7" stroke="#555" stroke-width="1.2" />
<line x1="422.7" y1="131.3" x2="422.7" y2="135.7" stroke="#555" stroke-width="1.2" />
<circle cx="413.3" cy="133.5" r="3.5" fill="#404040"/>
<line x1="457" y1="153.8" x2="513" y2="153.8" stroke="#555" stroke-width="1.2" />
<line x1="457" y1="151.6" x2="457" y2="156" stroke="#555" stroke-width="1.2" />
<line x1="513" y1="151.6" x2="513" y2="156" stroke="#555" stroke-width="1.2" />
<circle cx="484.6" cy="153.8" r="3.5" fill="#404040"/>
<path d="M335.4,11 L335.41,11.5 L335.43,12 L335.45,12.5 L335.46,13 L335.48,13.5 L335.5,14 L335.51,14.5 L335.53,15 L335.55,15.5 L335.57,16 L335.59,16.5 L335.61,17 L335.64,17.5 L335.66,18 L335.68,18.5 L335.7,19 L335.73,19.5 L335.75,20 L335.78,20.5 L335.8,21 L335.83,21.5 L335.85,22 L335.88,22.5 L335.9,23 L335.93,23.5 L335.96,23.99 L335.99,24.49 L336.02,24.99 L336.05,25.49 L336.07,25.99 L336.1,26.49 L336.13,26.99 L336.16,27.49 L336.2,27.99 L336.23,28.49 L336.26,28.99 L336.29,29.48 L336.32,29.98 L336.35,30.48 L336.39,30.98 L336.42,31.48 L336.45,31.98 L336.49,32.48 L336.52,32.98 L336.55,33.47 L336.59,33.97 L336.62,34.47 L336.66,34.97 L336.69,35.47 L336.73,35.97 L336.76,36.46 L336.8,36.96 L336.83,37.46 L336.87,37.96 L336.91,38.46 L336.95,38.96 L336.99,39.45 L337.03,39.95 L337.07,40.45 L337.11,40.95 L337.15,41.45 L337.19,41.94 L337.24,42.44 L337.28,42.94 L337.33,43.44 L337.38,43.94 L337.42,44.43 L337.47,44.93 L337.52,45.43 L337.57,45.93 L337.62,46.42 L337.67,46.92 L337.72,47.42 L337.77,47.92 L337.82,48.42 L337.87,48.91 L337.93,49.41 L337.98,49.91 L338.03,50.41 L338.09,50.9 L338.14,51.4 L338.2,51.9 L338.26,52.39 L338.31,52.89 L338.37,53.39 L338.43,53.89 L338.49,54.38 L338.54,54.88 L338.6,55.38 L338.66,55.87 L338.72,56.37 L338.78,56.87 L338.84,57.36 L338.9,57.86 L338.96,58.36 L339.02,58.85 L339.08,59.35 L339.15,59.85 L339.21,60.34 L339.27,60.84 L339.33,61.33 L339.4,61.83 L339.46,62.33 L339.52,62.82 L339.58,63.32 L339.65,63.81 L339.71,64.31 L339.77,64.8 L339.84,65.3 L339.9,65.79 L339.97,66.29 L340.03,66.79 L340.09,67.28 L340.16,67.78 L340.22,68.28 L340.29,68.77 L340.35,69.27 L340.42,69.77 L340.48,70.26 L340.55,70.76 L340.61,71.26 L340.68,71.75 L340.75,72.25 L340.81,72.75 L340.88,73.25 L340.95,73.74 L341.02,74.24 L341.09,74.74 L341.16,75.23 L341.23,75.73 L341.3,76.23 L341.37,76.72 L341.44,77.22 L341.51,77.72 L341.59,78.21 L341.66,78.71 L341.74,79.21 L341.81,79.7 L341.89,80.2 L341.97,80.69 L342.05,81.19 L342.13,81.68 L342.21,82.18 L342.29,82.67 L342.37,83.16 L342.46,83.66 L342.54,84.15 L342.63,84.64 L342.71,85.13 L342.8,85.63 L342.89,86.12 L342.98,86.61 L343.07,87.1 L343.17,87.59 L343.26,88.08 L343.36,88.57 L343.46,89.06 L343.55,89.54 L343.65,90.03 L343.76,90.52 L343.86,91.01 L343.96,91.49 L344.07,91.98 L344.18,92.46 L344.29,92.94 L344.4,93.43 L344.53,93.91 L344.66,94.39 L344.81,94.87 L344.96,95.34 L345.11,95.82 L345.27,96.29 L345.43,96.77 L345.59,97.24 L345.76,97.72 L345.92,98.19 L346.08,98.67 L346.23,99.14 L346.39,99.62 L346.53,100.1 L346.67,100.58 L346.81,101.06 L346.94,101.54 L347.08,102.03 L347.21,102.51 L347.34,102.99 L347.47,103.48 L347.6,103.96 L347.72,104.45 L347.85,104.93 L347.97,105.42 L348.1,105.91 L348.22,106.39 L348.34,106.88 L348.46,107.37 L348.58,107.86 L348.7,108.34 L348.82,108.83 L348.95,109.32 L349.07,109.8 L349.19,110.29 L349.31,110.78 L349.44,111.26 L349.56,111.75 L349.69,112.23 L349.81,112.72 L349.94,113.2 L350.07,113.68 L350.2,114.17 L350.33,114.65 L350.47,115.13 L350.61,115.61 L350.74,116.09 L350.89,116.56 L351.03,117.04 L351.18,117.52 L351.33,117.99 L351.48,118.46 L351.63,118.93 L351.79,119.4 L351.95,119.87 L352.12,120.34 L352.29,120.8 L352.47,121.27 L352.65,121.73 L352.84,122.19 L353.03,122.66 L353.22,123.12 L353.42,123.57 L353.62,124.03 L353.83,124.49 L354.03,124.95 L354.25,125.4 L354.46,125.86 L354.67,126.31 L354.89,126.76 L355.11,127.21 L355.33,127.67 L355.56,128.12 L355.78,128.57 L356,129.01 L356.23,129.46 L356.45,129.91 L356.68,130.36 L356.9,130.8 L357.13,131.25 L357.35,131.69 L357.58,132.14 L357.81,132.58 L358.04,133.02 L358.28,133.47 L358.51,133.91 L358.75,134.35 L358.99,134.79 L359.23,135.23 L359.48,135.66 L359.72,136.1 L359.97,136.54 L360.22,136.97 L360.47,137.41 L360.72,137.84 L360.97,138.27 L361.22,138.7 L361.48,139.13 L361.73,139.56 L361.99,139.99 L362.25,140.41 L362.51,140.85 L362.76,141.28 L363.02,141.71 L363.27,142.15 L363.53,142.59 L363.79,143.03 L364.05,143.46 L364.3,143.9 L364.56,144.34 L364.83,144.78 L365.09,145.21 L365.35,145.65 L365.62,146.08 L365.89,146.51 L366.16,146.94 L366.44,147.36 L366.71,147.78 L366.99,148.2 L367.28,148.61 L367.57,149.01 L367.86,149.41 L368.16,149.81 L368.46,150.2 L368.76,150.58 L369.08,150.96 L369.39,151.33 L369.71,151.69 L370.04,152.04 L370.38,152.39 L370.73,152.73 L371.08,153.07 L371.45,153.41 L371.82,153.74 L372.21,154.06 L372.6,154.38 L372.99,154.7 L373.4,155.01 L373.8,155.31 L374.21,155.61 L374.63,155.91 L375.04,156.2 L375.46,156.49 L375.88,156.77 L376.3,157.05 L376.72,157.32 L377.13,157.58 L377.55,157.85 L377.98,158.11 L378.41,158.37 L378.84,158.63 L379.27,158.89 L379.71,159.14 L380.15,159.39 L380.59,159.63 L381.04,159.87 L381.49,160.09 L381.94,160.31 L382.39,160.53 L382.85,160.73 L383.3,160.93 L383.76,161.11 L384.22,161.28 L384.68,161.45 L385.15,161.62 L385.62,161.79 L386.09,161.95 L386.56,162.12 L387.03,162.28 L387.51,162.44 L387.98,162.59 L388.46,162.74 L388.94,162.89 L389.42,163.04 L389.91,163.18 L390.39,163.32 L390.88,163.46 L391.37,163.59 L391.85,163.72 L392.34,163.85 L392.83,163.97 L393.32,164.09 L393.81,164.2 L394.3,164.31 L394.79,164.42 L395.29,164.52 L395.78,164.62 L396.27,164.71 L396.76,164.8 L397.25,164.88 L397.74,164.96 L398.23,165.03 L398.72,165.11 L399.21,165.18 L399.71,165.25 L400.2,165.31 L400.69,165.38 L401.19,165.45 L401.68,165.51 L402.18,165.58 L402.67,165.64 L403.17,165.7 L403.67,165.76 L404.17,165.82 L404.66,165.87 L405.16,165.93 L405.66,165.98 L406.16,166.03 L406.66,166.08 L407.16,166.13 L407.66,166.18 L408.16,166.22 L408.66,166.27 L409.16,166.31 L409.66,166.35 L410.16,166.38 L410.66,166.42 L411.16,166.45 L411.66,166.48 L412.16,166.51 L412.66,166.54 L413.16,166.56 L413.66,166.59 L414.16,166.61 L414.65,166.63 L415.15,166.65 L415.65,166.66 L416.15,166.68 L416.65,166.7 L417.15,166.72 L417.65,166.74 L418.15,166.76 L418.65,166.77 L419.15,166.79 L419.65,166.81 L420.14,166.83 L420.64,166.84 L421.14,166.86 L421.64,166.88 L422.14,166.89 L422.64,166.91 L423.14,166.92 L423.64,166.94 L424.14,166.95 L424.64,166.97 L425.14,166.98 L425.64,166.99 L426.14,167.01 L426.64,167.02 L427.14,167.03 L427.64,167.04 L428.14,167.06 L428.64,167.07 L429.14,167.08 L429.64,167.09 L430.14,167.1 L430.65,167.11 L431.15,167.12 L431.65,167.13 L432.15,167.13 L432.65,167.14 L433.15,167.15 L433.65,167.16 L434.15,167.16 L434.65,167.17 L435.15,167.17 L435.65,167.18 L436.15,167.18 L436.65,167.19 L437.15,167.19 L437.65,167.19 L438.15,167.2 L438.65,167.2 L439.15,167.2 L439.65,167.2 L440.15,167.2 L440.65,167.2 L441.15,167.2 L441.65,167.2 L442.15,167.2 L442.65,167.2 L443.15,167.2 L443.65,167.2 L444.15,167.2 L444.65,167.2 L445.15,167.2 L445.65,167.2 L446.15,167.2 L446.65,167.2 L447.15,167.2 L447.65,167.2 L448.15,167.2 L448.65,167.2 L449.15,167.2 L449.65,167.2 L450.15,167.2 L450.65,167.2 L451.15,167.2 L451.65,167.2 L452.15,167.2 L452.65,167.2 L453.15,167.2 L453.65,167.2 L454.15,167.2 L454.65,167.2 L455.15,167.2 L455.65,167.2 L456.15,167.2 L456.65,167.2 L457.15,167.2 L457.65,167.2 L458.15,167.2 L458.65,167.2 L459.15,167.2 L459.65,167.2 L460.15,167.2 L460.65,167.2 L461.15,167.2 L461.65,167.2 L462.15,167.2 L462.65,167.2 L463.15,167.2 L463.65,167.2 L464.15,167.2 L464.65,167.2 L465.15,167.2 L465.65,167.2 L466.15,167.2 L466.65,167.2 L467.15,167.2 L467.65,167.2 L468.15,167.2 L468.65,167.2 L469.15,167.2 L469.65,167.2 L470.15,167.2 L470.65,167.2 L471.15,167.2 L471.65,167.2 L472.15,167.2 L472.65,167.2 L473.15,167.2 L473.65,167.2 L474.15,167.2 L474.65,167.2 L475.15,167.2 L475.65,167.2 L476.15,167.2 L476.65,167.2 L477.15,167.2 L477.65,167.2 L478.15,167.2 L478.65,167.2 L479.15,167.2 L479.65,167.2 L480.15,167.2 L480.65,167.2 L481.15,167.2 L481.65,167.2 L482.15,167.2 L482.65,167.2 L483.15,167.2 L483.65,167.2 L484.15,167.2 L484.65,167.2 L485.15,167.2 L485.65,167.2 L486.15,167.2 L486.65,167.2 L487.15,167.2 L487.65,167.2 L488.15,167.2 L488.65,167.2 L489.15,167.2 L489.65,167.2 L490.15,167.2 L490.65,167.2 L491.15,167.2 L491.65,167.2 L492.15,167.2 L492.65,167.2 L493.15,167.2 L493.65,167.2 L494.15,167.2 L494.65,167.2 L495.15,167.2 L495.65,167.2 L496.15,167.2 L496.65,167.2 L497.15,167.2 L497.65,167.2 L498.15,167.2 L498.65,167.2 L499.15,167.2 L499.65,167.2 L500.15,167.2 L500.65,167.2 L501.15,167.2 L501.65,167.2 L502.15,167.19 L502.65,167.19 L503.15,167.19 L503.65,167.18 L504.15,167.18 L504.65,167.17 L505.15,167.16 L505.65,167.16 L506.15,167.15 L506.65,167.14 L507.15,167.13 L507.65,167.12 L508.15,167.11 L508.65,167.1 L509.15,167.09 L509.65,167.08 L510.15,167.07 L510.65,167.06 L511.15,167.05 L511.65,167.03 L512.15,167.02 L512.65,167.01 L513.15,166.99 L513.65,166.98 L514.15,166.97 L514.65,166.95 L515.15,166.94 L515.65,166.93 L516.15,166.91 L516.65,166.9 L517.15,166.88 L517.65,166.87 L518.15,166.85 L518.65,166.84 L519.15,166.82 L519.64,166.81 L520.14,166.8 L520.64,166.78 L521.14,166.76 L521.64,166.75 L522.14,166.73 L522.64,166.71 L523.14,166.69 L523.64,166.67 L524.14,166.65 L524.64,166.63 L525.14,166.61 L525.64,166.59 L526.14,166.56 L526.64,166.54 L527.14,166.52 L527.64,166.49 L528.14,166.47 L528.64,166.44 L529.13,166.41 L529.63,166.39 L530.13,166.36 L530.63,166.33 L531.13,166.3 L531.63,166.27 L532.13,166.24 L532.63,166.21 L533.13,166.18 L533.63,166.15 L534.13,166.12 L534.63,166.09 L535.13,166.06 L535.62,166.03 L536.12,165.99 L536.62,165.96 L537.12,165.93 L537.62,165.89 L538.12,165.86 L538.62,165.83" fill="none" stroke="#000" stroke-width="1.5" stroke-linejoin="round" stroke-linecap="butt" stroke-dasharray="6.2 6.2"/>
<path d="M338.5,11 L338.59,11.49 L338.69,11.98 L338.78,12.48 L338.88,12.97 L338.98,13.46 L339.07,13.95 L339.17,14.44 L339.27,14.93 L339.37,15.42 L339.47,15.92 L339.57,16.41 L339.67,16.9 L339.78,17.39 L339.88,17.88 L339.99,18.37 L340.09,18.86 L340.2,19.34 L340.3,19.83 L340.41,20.32 L340.52,20.81 L340.63,21.3 L340.74,21.79 L340.85,22.28 L340.96,22.76 L341.07,23.25 L341.18,23.74 L341.29,24.23 L341.41,24.71 L341.52,25.2 L341.64,25.69 L341.75,26.17 L341.87,26.66 L341.99,27.15 L342.1,27.63 L342.22,28.12 L342.34,28.6 L342.46,29.09 L342.58,29.57 L342.7,30.06 L342.82,30.54 L342.94,31.03 L343.07,31.51 L343.19,32 L343.31,32.48 L343.44,32.96 L343.56,33.45 L343.69,33.93 L343.81,34.41 L343.94,34.89 L344.07,35.38 L344.2,35.86 L344.32,36.34 L344.45,36.82 L344.58,37.3 L344.71,37.79 L344.84,38.27 L344.98,38.75 L345.11,39.23 L345.25,39.71 L345.38,40.19 L345.52,40.67 L345.66,41.15 L345.8,41.63 L345.94,42.11 L346.08,42.59 L346.22,43.07 L346.36,43.55 L346.51,44.03 L346.65,44.5 L346.8,44.98 L346.94,45.46 L347.09,45.94 L347.24,46.42 L347.39,46.9 L347.54,47.37 L347.69,47.85 L347.84,48.33 L347.99,48.8 L348.14,49.28 L348.3,49.76 L348.45,50.23 L348.61,50.71 L348.76,51.19 L348.92,51.66 L349.07,52.14 L349.23,52.61 L349.39,53.09 L349.55,53.56 L349.71,54.04 L349.87,54.51 L350.03,54.99 L350.19,55.46 L350.35,55.94 L350.51,56.41 L350.67,56.88 L350.83,57.36 L350.99,57.83 L351.16,58.3 L351.32,58.78 L351.48,59.25 L351.65,59.72 L351.81,60.19 L351.98,60.67 L352.14,61.14 L352.31,61.61 L352.47,62.08 L352.64,62.56 L352.8,63.03 L352.97,63.5 L353.14,63.97 L353.3,64.44 L353.47,64.91 L353.64,65.38 L353.8,65.85 L353.97,66.33 L354.13,66.8 L354.3,67.27 L354.47,67.74 L354.63,68.22 L354.8,68.69 L354.97,69.16 L355.14,69.64 L355.3,70.11 L355.47,70.58 L355.64,71.05 L355.81,71.53 L355.99,72 L356.16,72.47 L356.33,72.94 L356.51,73.41 L356.68,73.88 L356.86,74.35 L357.03,74.82 L357.21,75.29 L357.39,75.76 L357.58,76.22 L357.76,76.69 L357.94,77.15 L358.13,77.62 L358.32,78.08 L358.51,78.54 L358.7,79 L358.9,79.46 L359.09,79.92 L359.29,80.38 L359.49,80.83 L359.69,81.28 L359.9,81.74 L360.11,82.19 L360.32,82.63 L360.53,83.08 L360.74,83.53 L360.96,83.98 L361.18,84.43 L361.4,84.87 L361.63,85.32 L361.86,85.77 L362.09,86.22 L362.32,86.66 L362.55,87.11 L362.79,87.55 L363.03,88 L363.27,88.44 L363.51,88.88 L363.76,89.33 L364.01,89.77 L364.26,90.21 L364.51,90.64 L364.77,91.08 L365.02,91.52 L365.28,91.95 L365.54,92.38 L365.81,92.81 L366.07,93.24 L366.34,93.67 L366.61,94.09 L366.88,94.51 L367.15,94.93 L367.43,95.35 L367.71,95.76 L367.98,96.18 L368.27,96.59 L368.55,96.99 L368.83,97.4 L369.12,97.8 L369.41,98.2 L369.7,98.6 L369.99,98.99 L370.28,99.38 L370.58,99.77 L370.88,100.16 L371.19,100.54 L371.49,100.93 L371.8,101.32 L372.11,101.7 L372.43,102.08 L372.75,102.47 L373.07,102.85 L373.39,103.23 L373.72,103.61 L374.04,103.99 L374.37,104.36 L374.71,104.74 L375.04,105.11 L375.38,105.49 L375.72,105.86 L376.06,106.23 L376.41,106.6 L376.75,106.97 L377.1,107.34 L377.45,107.7 L377.8,108.07 L378.16,108.43 L378.51,108.79 L378.87,109.15 L379.23,109.51 L379.59,109.86 L379.95,110.22 L380.32,110.57 L380.68,110.93 L381.05,111.28 L381.42,111.62 L381.79,111.97 L382.16,112.32 L382.53,112.66 L382.9,113 L383.28,113.34 L383.66,113.68 L384.03,114.01 L384.41,114.35 L384.79,114.68 L385.17,115.01 L385.55,115.34 L385.93,115.67 L386.31,115.99 L386.69,116.31 L387.08,116.63 L387.46,116.95 L387.84,117.27 L388.23,117.58 L388.61,117.89 L389,118.2 L389.38,118.51 L389.77,118.82 L390.15,119.12 L390.54,119.42 L390.93,119.72 L391.32,120.02 L391.72,120.32 L392.11,120.62 L392.51,120.92 L392.91,121.21 L393.31,121.51 L393.71,121.8 L394.12,122.09 L394.52,122.38 L394.93,122.67 L395.34,122.96 L395.75,123.25 L396.16,123.53 L396.58,123.82 L396.99,124.1 L397.41,124.38 L397.83,124.66 L398.25,124.94 L398.67,125.22 L399.09,125.5 L399.52,125.77 L399.94,126.04 L400.37,126.32 L400.79,126.59 L401.22,126.85 L401.65,127.12 L402.08,127.39 L402.51,127.65 L402.94,127.91 L403.38,128.17 L403.81,128.43 L404.25,128.69 L404.68,128.94 L405.12,129.2 L405.55,129.45 L405.99,129.7 L406.43,129.94 L406.87,130.19 L407.31,130.44 L407.75,130.68 L408.19,130.92 L408.63,131.16 L409.07,131.39 L409.51,131.63 L409.96,131.86 L410.4,132.09 L410.84,132.32 L411.28,132.54 L411.73,132.77 L412.17,132.99 L412.61,133.21 L413.06,133.43 L413.5,133.64 L413.95,133.86 L414.39,134.07 L414.84,134.28 L415.29,134.49 L415.74,134.7 L416.19,134.91 L416.64,135.12 L417.1,135.32 L417.55,135.53 L418.01,135.73 L418.46,135.93 L418.92,136.13 L419.38,136.33 L419.84,136.53 L420.3,136.72 L420.76,136.92 L421.22,137.11 L421.68,137.31 L422.14,137.5 L422.61,137.69 L423.07,137.88 L423.54,138.07 L424,138.25 L424.47,138.44 L424.94,138.62 L425.4,138.81 L425.87,138.99 L426.34,139.17 L426.81,139.35 L427.28,139.53 L427.75,139.71 L428.22,139.89 L428.69,140.06 L429.16,140.24 L429.63,140.41 L430.11,140.59 L430.58,140.76 L431.05,140.93 L431.52,141.1 L432,141.27 L432.47,141.44 L432.95,141.61 L433.42,141.77 L433.89,141.94 L434.37,142.1 L434.84,142.27 L435.32,142.43 L435.79,142.59 L436.26,142.75 L436.74,142.92 L437.21,143.08 L437.69,143.23 L438.16,143.39 L438.63,143.55 L439.11,143.71 L439.58,143.86 L440.05,144.02 L440.53,144.17 L441,144.33 L441.48,144.48 L441.95,144.63 L442.43,144.78 L442.9,144.93 L443.38,145.08 L443.85,145.23 L444.33,145.37 L444.81,145.52 L445.29,145.66 L445.76,145.81 L446.24,145.95 L446.72,146.09 L447.2,146.23 L447.68,146.38 L448.16,146.52 L448.64,146.66 L449.12,146.79 L449.6,146.93 L450.08,147.07 L450.56,147.21 L451.04,147.34 L451.52,147.48 L452,147.61 L452.48,147.75 L452.97,147.88 L453.45,148.02 L453.93,148.15 L454.41,148.28 L454.9,148.41 L455.38,148.54 L455.86,148.67 L456.35,148.81 L456.83,148.94 L457.31,149.06 L457.8,149.19 L458.28,149.32 L458.77,149.45 L459.25,149.58 L459.73,149.71 L460.22,149.83 L460.7,149.96 L461.19,150.09 L461.67,150.22 L462.16,150.34 L462.64,150.47 L463.13,150.59 L463.61,150.72 L464.1,150.84 L464.58,150.97 L465.07,151.1 L465.55,151.22 L466.04,151.35 L466.52,151.47 L467.01,151.6 L467.49,151.72 L467.98,151.85 L468.46,151.97 L468.95,152.1 L469.43,152.22 L469.91,152.35 L470.4,152.47 L470.88,152.6 L471.37,152.72 L471.85,152.85 L472.34,152.97 L472.82,153.1 L473.3,153.22 L473.79,153.35 L474.27,153.47 L474.76,153.6 L475.24,153.73 L475.72,153.85 L476.21,153.98 L476.69,154.1 L477.18,154.23 L477.66,154.35 L478.14,154.48 L478.63,154.6 L479.11,154.72 L479.6,154.85 L480.08,154.97 L480.57,155.09 L481.05,155.22 L481.54,155.34 L482.02,155.46 L482.51,155.58 L482.99,155.71 L483.48,155.83 L483.96,155.95 L484.45,156.07 L484.93,156.19 L485.42,156.31 L485.9,156.43 L486.39,156.55 L486.87,156.67 L487.36,156.79 L487.85,156.91 L488.33,157.03 L488.82,157.14 L489.3,157.26 L489.79,157.38 L490.28,157.49 L490.76,157.61 L491.25,157.73 L491.74,157.84 L492.22,157.96 L492.71,158.07 L493.2,158.18 L493.68,158.3 L494.17,158.41 L494.66,158.52 L495.14,158.63 L495.63,158.74 L496.12,158.86 L496.61,158.97 L497.09,159.08 L497.58,159.19 L498.07,159.3 L498.56,159.41 L499.04,159.53 L499.53,159.64 L500.02,159.75 L500.51,159.86 L501,159.97 L501.48,160.08 L501.97,160.19 L502.46,160.29 L502.95,160.4 L503.44,160.51 L503.93,160.61 L504.42,160.72 L504.9,160.83 L505.39,160.93 L505.88,161.03 L506.37,161.14 L506.86,161.24 L507.35,161.34 L507.84,161.44 L508.33,161.54 L508.82,161.63 L509.31,161.73 L509.8,161.83 L510.29,161.92 L510.78,162.01 L511.28,162.1 L511.77,162.19 L512.26,162.28 L512.75,162.37 L513.24,162.46 L513.73,162.55 L514.23,162.64 L514.72,162.73 L515.21,162.82 L515.7,162.91 L516.2,163 L516.69,163.09 L517.18,163.18 L517.68,163.26 L518.17,163.35 L518.66,163.43 L519.16,163.51 L519.65,163.59 L520.15,163.67 L520.64,163.75 L521.14,163.82 L521.63,163.89 L522.13,163.96 L522.62,164.03 L523.12,164.09 L523.61,164.15 L524.11,164.21 L524.6,164.26 L525.1,164.31 L525.6,164.36 L526.09,164.41 L526.59,164.46 L527.09,164.5 L527.58,164.55 L528.08,164.6 L528.58,164.64 L529.08,164.69 L529.57,164.73 L530.07,164.77 L530.57,164.81 L531.07,164.85 L531.57,164.89 L532.06,164.93 L532.56,164.97 L533.06,165 L533.56,165.04 L534.06,165.07 L534.56,165.1 L535.06,165.13 L535.56,165.16 L536.06,165.18 L536.56,165.21 L537.06,165.23 L537.56,165.25 L538.06,165.27 L538.56,165.29" fill="none" stroke="#ff0000" stroke-width="1.5" stroke-linejoin="round" stroke-linecap="butt" stroke-dasharray="6.2 6.2"/>
<rect x="310.7" y="7.6" width="228.6" height="182.8" fill="none" stroke="#000" stroke-width="1.3"/>
<line x1="310.7" y1="189.6" x2="313.1" y2="189.6" stroke="#000" stroke-width="1.1" />
<line x1="310.7" y1="159.25" x2="314.7" y2="159.25" stroke="#000" stroke-width="1.1" />
<line x1="310.7" y1="128.9" x2="313.1" y2="128.9" stroke="#000" stroke-width="1.1" />
<line x1="310.7" y1="98.55" x2="314.7" y2="98.55" stroke="#000" stroke-width="1.1" />
<line x1="310.7" y1="68.2" x2="313.1" y2="68.2" stroke="#000" stroke-width="1.1" />
<line x1="310.7" y1="37.85" x2="314.7" y2="37.85" stroke="#000" stroke-width="1.1" />
<text x="306.1" y="162.15" font-size="10" font-weight="bold" text-anchor="end" fill="#000"  letter-spacing="-0.3">2.3</text>
<text x="306.1" y="101.45" font-size="10" font-weight="bold" text-anchor="end" fill="#000"  letter-spacing="-0.3">2.4</text>
<text x="306.1" y="40.75" font-size="10" font-weight="bold" text-anchor="end" fill="#000"  letter-spacing="-0.3">2.5</text>
<line x1="333.56" y1="7.6" x2="333.56" y2="10.2" stroke="#000" stroke-width="1.1" />
<line x1="333.56" y1="190.4" x2="333.56" y2="188.1" stroke="#000" stroke-width="1.1" />
<line x1="356.42" y1="7.6" x2="356.42" y2="10.2" stroke="#000" stroke-width="1.1" />
<line x1="356.42" y1="190.4" x2="356.42" y2="186.6" stroke="#000" stroke-width="1.1" />
<line x1="379.28" y1="7.6" x2="379.28" y2="10.2" stroke="#000" stroke-width="1.1" />
<line x1="379.28" y1="190.4" x2="379.28" y2="188.1" stroke="#000" stroke-width="1.1" />
<line x1="402.14" y1="7.6" x2="402.14" y2="10.2" stroke="#000" stroke-width="1.1" />
<line x1="402.14" y1="190.4" x2="402.14" y2="186.6" stroke="#000" stroke-width="1.1" />
<line x1="425" y1="7.6" x2="425" y2="10.2" stroke="#000" stroke-width="1.1" />
<line x1="425" y1="190.4" x2="425" y2="188.1" stroke="#000" stroke-width="1.1" />
<line x1="447.86" y1="7.6" x2="447.86" y2="10.2" stroke="#000" stroke-width="1.1" />
<line x1="447.86" y1="190.4" x2="447.86" y2="186.6" stroke="#000" stroke-width="1.1" />
<line x1="470.72" y1="7.6" x2="470.72" y2="10.2" stroke="#000" stroke-width="1.1" />
<line x1="470.72" y1="190.4" x2="470.72" y2="188.1" stroke="#000" stroke-width="1.1" />
<line x1="493.58" y1="7.6" x2="493.58" y2="10.2" stroke="#000" stroke-width="1.1" />
<line x1="493.58" y1="190.4" x2="493.58" y2="186.6" stroke="#000" stroke-width="1.1" />
<line x1="516.44" y1="7.6" x2="516.44" y2="10.2" stroke="#000" stroke-width="1.1" />
<line x1="516.44" y1="190.4" x2="516.44" y2="188.1" stroke="#000" stroke-width="1.1" />
<text x="310.55" y="202.1" font-size="10" font-weight="bold" text-anchor="middle" fill="#000"  letter-spacing="-0.3">0</text>
<text x="356.27" y="202.1" font-size="10" font-weight="bold" text-anchor="middle" fill="#000"  letter-spacing="-0.3">5</text>
<text x="401.99" y="202.1" font-size="10" font-weight="bold" text-anchor="middle" fill="#000"  letter-spacing="-0.3">10</text>
<text x="447.71" y="202.1" font-size="10" font-weight="bold" text-anchor="middle" fill="#000"  letter-spacing="-0.3">15</text>
<text x="493.43" y="202.1" font-size="10" font-weight="bold" text-anchor="middle" fill="#000"  letter-spacing="-0.3">20</text>
<text x="539.15" y="202.1" font-size="10" font-weight="bold" text-anchor="middle" fill="#000"  letter-spacing="-0.3">25</text>
<text x="416.5" y="215.6" font-size="12" font-weight="bold" text-anchor="middle" fill="#000" >Diameter(nm)</text>
<text x="288" y="98.5" font-size="12.2" font-weight="bold" text-anchor="middle" fill="#000" transform="rotate(-90 288 98.5)">PL Emission Energy(eV)</text>
<text x="277.5" y="13.1" font-size="12.2" font-weight="bold" text-anchor="start" fill="#000" >(b)</text>
<text x="500.5" y="175.3" font-size="11" font-weight="bold" text-anchor="middle" fill="#8c8c8c" >Bulk Energy</text>
<circle cx="447" cy="18.5" r="3.4" fill="#404040"/>
<line x1="437" y1="30.5" x2="456" y2="30.5" stroke="#000" stroke-width="1.5" stroke-dasharray="6.2 6.3"/>
<line x1="437" y1="42.5" x2="456" y2="42.5" stroke="#ff0000" stroke-width="1.5" stroke-dasharray="6.2 6.3"/>
<text x="459.7" y="21.2" font-size="9.5" font-weight="bold" text-anchor="start" fill="#000" >MNPs</text>
<text x="459.7" y="33.2" font-size="9.5" font-weight="bold" text-anchor="start" fill="#000" >QCE Fitting</text>
<text x="459.7" y="45.2" font-size="9.5" font-weight="bold" text-anchor="start" fill="#000" >QCE+BFE Fitting</text>
<line x1="167.7" y1="224.9" x2="111.9" y2="407.5" stroke="#3030ff" stroke-width="1.0" stroke-dasharray="3.5 3"/>
<line x1="181.4" y1="224.9" x2="119.86" y2="407.5" stroke="#20e020" stroke-width="1.0" stroke-dasharray="3.5 3"/>
<line x1="188" y1="224.9" x2="106.2" y2="407.5" stroke="#20e0f0" stroke-width="1.0" stroke-dasharray="3.5 3"/>
<line x1="204.3" y1="224.9" x2="130.35" y2="407.5" stroke="#ff6060" stroke-width="1.0" stroke-dasharray="3.5 3"/>
<line x1="212.7" y1="224.9" x2="134.18" y2="407.5" stroke="#606060" stroke-width="1.0" stroke-dasharray="3.5 3"/>
<rect x="29.0" y="224.7" width="228.2" height="183.7" fill="none" stroke="#000" stroke-width="1.3"/>
<path d="M28.96,408.2 L29.63,408.21 L30.3,408.23 L30.97,408.25 L31.63,408.26 L32.3,408.27 L32.96,408.28 L33.63,408.29 L34.29,408.29 L34.95,408.3 L35.61,408.3 L36.27,408.3 L36.93,408.3 L37.59,408.3 L38.25,408.3 L38.91,408.3 L39.57,408.29 L40.23,408.29 L40.88,408.28 L41.54,408.27 L42.2,408.26 L42.85,408.25 L43.51,408.24 L44.16,408.23 L44.81,408.22 L45.47,408.21 L46.12,408.2 L46.77,408.18 L47.42,408.17 L48.08,408.16 L48.73,408.14 L49.38,408.13 L50.03,408.11 L50.68,408.1 L51.33,408.08 L51.98,408.07 L52.63,408.05 L53.29,408.04 L53.94,408.02 L54.59,408.01 L55.24,407.99 L55.89,407.98 L56.54,407.96 L57.19,407.95 L57.84,407.94 L58.49,407.93 L59.14,407.91 L59.79,407.9 L60.44,407.89 L61.09,407.88 L61.74,407.88 L62.39,407.87 L63.05,407.86 L63.7,407.86 L64.35,407.85 L65,407.85 L65.65,407.85 L66.31,407.84 L66.96,407.84 L67.61,407.85 L68.27,407.85 L68.92,407.85 L69.58,407.86 L70.23,407.87 L70.89,407.88 L71.55,407.89 L72.2,407.9 L72.86,407.91 L73.52,407.92 L74.18,407.94 L74.83,407.95 L75.49,407.97 L76.15,407.98 L76.81,408 L77.47,408.02 L78.13,408.04 L78.79,408.05 L79.45,408.07 L80.11,408.09 L80.78,408.11 L81.44,408.13 L82.1,408.15 L82.76,408.16 L83.42,408.18 L84.09,408.2 L84.75,408.22 L85.41,408.23 L86.08,408.25 L86.74,408.26 L87.41,408.28 L88.07,408.29 L88.73,408.3 L89.4,408.31 L90.06,408.32 L90.73,408.33 L91.4,408.34 L92.06,408.35 L92.73,408.35 L93.39,408.35 L94.06,408.36 L94.72,408.36 L95.39,408.35 L96.06,408.35 L96.72,408.34 L97.39,408.34 L98.06,408.33 L98.73,408.31 L99.39,408.3 L100.06,408.28 L100.73,408.26 L101.39,408.24 L102.06,408.22 L102.73,408.19 L103.4,408.16 L104.06,408.13 L104.73,408.09 L105.4,408.05 L106.07,408.01 L106.73,407.96 L107.4,407.91 L108.07,407.86 L108.73,407.8 L109.4,407.74 L110.06,407.68 L110.73,407.61 L111.39,407.54 L112.05,407.46 L112.71,407.38 L113.37,407.29 L114.02,407.2 L114.68,407.1 L115.33,407 L115.98,406.89 L116.62,406.78 L117.27,406.66 L117.91,406.54 L118.55,406.41 L119.18,406.27 L119.82,406.13 L120.45,405.98 L121.07,405.83 L121.69,405.66 L122.31,405.5 L122.93,405.32 L123.54,405.14 L124.14,404.95 L124.74,404.75 L125.34,404.55 L125.93,404.33 L126.52,404.11 L127.1,403.89 L127.68,403.65 L128.25,403.4 L128.82,403.15 L129.38,402.89 L129.94,402.62 L130.49,402.34 L131.03,402.05 L131.57,401.76 L132.1,401.45 L132.62,401.14 L133.14,400.81 L133.65,400.48 L134.15,400.13 L134.65,399.78 L135.14,399.41 L135.62,399.04 L136.1,398.65 L136.56,398.26 L137.02,397.85 L137.47,397.43 L137.92,397.01 L138.35,396.57 L138.78,396.12 L139.2,395.67 L139.62,395.2 L140.03,394.73 L140.43,394.24 L140.82,393.75 L141.21,393.25 L141.59,392.74 L141.96,392.23 L142.33,391.7 L142.69,391.18 L143.05,390.64 L143.4,390.1 L143.75,389.55 L144.09,388.99 L144.43,388.43 L144.76,387.86 L145.08,387.29 L145.4,386.72 L145.72,386.13 L146.03,385.55 L146.34,384.96 L146.64,384.37 L146.94,383.77 L147.24,383.17 L147.53,382.57 L147.82,381.96 L148.1,381.35 L148.38,380.74 L148.66,380.13 L148.94,379.51 L149.21,378.9 L149.48,378.28 L149.75,377.66 L150.01,377.05 L150.28,376.43 L150.54,375.81 L150.8,375.19 L151.05,374.57 L151.31,373.95 L151.56,373.33 L151.81,372.72 L152.06,372.1 L152.31,371.48 L152.55,370.86 L152.8,370.25 L153.04,369.63 L153.28,369.01 L153.52,368.39 L153.76,367.77 L154,367.16 L154.23,366.54 L154.47,365.92 L154.7,365.31 L154.93,364.69 L155.16,364.07 L155.39,363.45 L155.62,362.84 L155.85,362.22 L156.08,361.6 L156.3,360.99 L156.53,360.37 L156.75,359.75 L156.97,359.13 L157.2,358.52 L157.42,357.9 L157.64,357.28 L157.86,356.67 L158.08,356.05 L158.3,355.43 L158.52,354.82 L158.74,354.2 L158.96,353.58 L159.17,352.97 L159.39,352.35 L159.61,351.73 L159.83,351.11 L160.04,350.5 L160.26,349.88 L160.48,349.26 L160.7,348.65 L160.91,348.03 L161.13,347.41 L161.35,346.79 L161.56,346.18 L161.78,345.56 L162,344.94 L162.22,344.32 L162.44,343.71 L162.66,343.09 L162.88,342.47 L163.1,341.85 L163.32,341.24 L163.54,340.62 L163.76,340 L163.98,339.38 L164.2,338.77 L164.43,338.15 L164.65,337.53 L164.88,336.91 L165.1,336.3 L165.33,335.68 L165.55,335.06 L165.78,334.44 L166.01,333.83 L166.24,333.21 L166.47,332.59 L166.7,331.98 L166.93,331.36 L167.16,330.75 L167.4,330.13 L167.63,329.52 L167.86,328.9 L168.1,328.29 L168.34,327.67 L168.57,327.06 L168.81,326.45 L169.05,325.83 L169.29,325.22 L169.53,324.61 L169.77,323.99 L170.02,323.38 L170.26,322.77 L170.51,322.16 L170.75,321.55 L171,320.94 L171.25,320.33 L171.5,319.72 L171.75,319.12 L172,318.51 L172.26,317.9 L172.51,317.3 L172.77,316.69 L173.03,316.09 L173.29,315.48 L173.55,314.88 L173.81,314.27 L174.07,313.67 L174.33,313.07 L174.6,312.47 L174.87,311.87 L175.14,311.27 L175.41,310.67 L175.68,310.07 L175.95,309.48 L176.22,308.88 L176.5,308.29 L176.78,307.69 L177.06,307.1 L177.34,306.51 L177.62,305.91 L177.9,305.32 L178.19,304.73 L178.48,304.14 L178.76,303.56 L179.06,302.97 L179.35,302.38 L179.64,301.8 L179.94,301.21 L180.24,300.63 L180.53,300.05 L180.84,299.47 L181.14,298.89 L181.44,298.31 L181.75,297.73 L182.06,297.16 L182.37,296.58 L182.68,296.01 L183,295.44 L183.31,294.86 L183.63,294.29 L183.95,293.73 L184.27,293.16 L184.6,292.59 L184.93,292.03 L185.25,291.46 L185.59,290.9 L185.92,290.34 L186.25,289.78 L186.59,289.22 L186.93,288.66 L187.27,288.11 L187.62,287.55 L187.96,287 L188.31,286.45 L188.66,285.9 L189.01,285.35 L189.37,284.8 L189.73,284.26 L190.09,283.71 L190.45,283.17 L190.81,282.63 L191.18,282.09 L191.55,281.55 L191.92,281.02 L192.3,280.48 L192.67,279.95 L193.05,279.42 L193.43,278.89 L193.82,278.36 L194.2,277.84 L194.59,277.31 L194.98,276.79 L195.37,276.27 L195.77,275.75 L196.17,275.23 L196.57,274.71 L196.97,274.2 L197.37,273.68 L197.78,273.17 L198.19,272.66 L198.6,272.15 L199.01,271.65 L199.43,271.14 L199.84,270.64 L200.26,270.13 L200.68,269.63 L201.11,269.14 L201.53,268.64 L201.96,268.14 L202.39,267.65 L202.82,267.16 L203.25,266.67 L203.69,266.18 L204.13,265.69 L204.57,265.21 L205.01,264.72 L205.45,264.24 L205.9,263.76 L206.35,263.28 L206.79,262.81 L207.25,262.33 L207.7,261.86 L208.15,261.39 L208.61,260.92 L209.07,260.45 L209.53,259.99 L209.99,259.52 L210.46,259.06 L210.93,258.6 L211.39,258.14 L211.86,257.68 L212.34,257.23 L212.81,256.77 L213.28,256.32 L213.76,255.87 L214.24,255.42 L214.72,254.97 L215.2,254.53 L215.69,254.09 L216.17,253.64 L216.66,253.2 L217.15,252.77 L217.64,252.33 L218.13,251.9 L218.63,251.46 L219.12,251.03 L219.62,250.6 L220.12,250.18 L220.62,249.75 L221.12,249.33 L221.62,248.91 L222.13,248.49 L222.64,248.07 L223.14,247.65 L223.65,247.24 L224.17,246.83 L224.68,246.42 L225.19,246.01 L225.71,245.6 L226.22,245.2 L226.74,244.79 L227.26,244.39 L227.78,243.99 L228.31,243.6 L228.83,243.2 L229.36,242.81 L229.88,242.42 L230.41,242.03 L230.94,241.64 L231.47,241.25 L232,240.87 L232.54,240.49 L233.07,240.1 L233.61,239.73 L234.15,239.35 L234.68,238.98 L235.22,238.6 L235.76,238.23 L236.31,237.86 L236.85,237.5 L237.39,237.13 L237.94,236.77 L238.49,236.41 L239.04,236.05 L239.58,235.69 L240.14,235.34 L240.69,234.98 L241.24,234.63 L241.79,234.28 L242.35,233.94 L242.9,233.59 L243.46,233.25 L244.02,232.91 L244.58,232.57 L245.14,232.23 L245.7,231.89 L246.26,231.56 L246.82,231.23 L247.39,230.9 L247.95,230.57 L248.52,230.25 L249.08,229.92 L249.65,229.6 L250.22,229.28 L250.79,228.97 L251.36,228.65 L251.93,228.34 L252.5,228.03 L253.08,227.72 L253.65,227.41 L254.23,227.11 L254.8,226.8 L255.38,226.5 L255.95,226.2 L256.53,225.91 L257.11,225.61" fill="none" stroke="#000000" stroke-width="1.8" stroke-linejoin="round" stroke-linecap="round" />
<path d="M29.12,407.85 L29.74,407.76 L30.37,407.68 L31,407.61 L31.63,407.54 L32.26,407.47 L32.89,407.4 L33.52,407.34 L34.15,407.28 L34.78,407.23 L35.41,407.17 L36.04,407.12 L36.67,407.08 L37.3,407.03 L37.93,406.99 L38.57,406.95 L39.2,406.91 L39.83,406.88 L40.46,406.85 L41.1,406.82 L41.73,406.79 L42.37,406.77 L43,406.75 L43.64,406.73 L44.27,406.71 L44.91,406.7 L45.54,406.69 L46.18,406.68 L46.81,406.67 L47.45,406.66 L48.09,406.66 L48.72,406.65 L49.36,406.65 L50,406.65 L50.64,406.65 L51.27,406.66 L51.91,406.66 L52.55,406.67 L53.19,406.68 L53.83,406.69 L54.47,406.7 L55.1,406.71 L55.74,406.72 L56.38,406.74 L57.02,406.75 L57.66,406.77 L58.3,406.79 L58.94,406.8 L59.58,406.82 L60.22,406.84 L60.86,406.86 L61.51,406.89 L62.15,406.91 L62.79,406.93 L63.43,406.95 L64.07,406.98 L64.71,407 L65.35,407.02 L66,407.05 L66.64,407.07 L67.28,407.1 L67.92,407.12 L68.56,407.15 L69.21,407.17 L69.85,407.2 L70.49,407.22 L71.13,407.25 L71.78,407.27 L72.42,407.3 L73.06,407.32 L73.71,407.34 L74.35,407.37 L74.99,407.39 L75.64,407.41 L76.28,407.43 L76.92,407.45 L77.57,407.47 L78.21,407.49 L78.85,407.51 L79.5,407.52 L80.14,407.54 L80.78,407.56 L81.43,407.57 L82.07,407.58 L82.71,407.59 L83.36,407.6 L84,407.61 L84.64,407.62 L85.29,407.63 L85.93,407.63 L86.57,407.64 L87.22,407.64 L87.86,407.64 L88.5,407.63 L89.15,407.63 L89.79,407.63 L90.43,407.62 L91.08,407.61 L91.72,407.6 L92.36,407.58 L93,407.57 L93.65,407.55 L94.29,407.53 L94.93,407.51 L95.58,407.48 L96.22,407.46 L96.86,407.43 L97.5,407.4 L98.14,407.36 L98.79,407.33 L99.43,407.29 L100.07,407.24 L100.71,407.2 L101.35,407.15 L102,407.1 L102.64,407.04 L103.28,406.99 L103.92,406.93 L104.56,406.86 L105.2,406.8 L105.84,406.73 L106.48,406.65 L107.12,406.58 L107.76,406.5 L108.4,406.41 L109.03,406.32 L109.67,406.23 L110.31,406.13 L110.94,406.03 L111.57,405.93 L112.2,405.82 L112.83,405.7 L113.46,405.58 L114.08,405.46 L114.71,405.33 L115.33,405.19 L115.94,405.05 L116.56,404.9 L117.17,404.75 L117.78,404.59 L118.38,404.43 L118.99,404.26 L119.58,404.08 L120.18,403.89 L120.77,403.7 L121.36,403.51 L121.94,403.3 L122.52,403.09 L123.1,402.87 L123.67,402.64 L124.23,402.41 L124.8,402.17 L125.35,401.92 L125.9,401.66 L126.45,401.4 L126.99,401.12 L127.52,400.84 L128.05,400.55 L128.58,400.25 L129.09,399.94 L129.6,399.63 L130.11,399.3 L130.61,398.97 L131.1,398.62 L131.59,398.27 L132.06,397.9 L132.53,397.53 L133,397.15 L133.46,396.75 L133.9,396.35 L134.35,395.94 L134.78,395.51 L135.21,395.08 L135.63,394.64 L136.04,394.19 L136.45,393.73 L136.85,393.27 L137.24,392.79 L137.63,392.31 L138.01,391.82 L138.38,391.33 L138.75,390.82 L139.11,390.31 L139.46,389.8 L139.81,389.28 L140.15,388.75 L140.49,388.22 L140.82,387.68 L141.15,387.14 L141.46,386.59 L141.78,386.04 L142.08,385.49 L142.39,384.93 L142.68,384.37 L142.97,383.81 L143.26,383.24 L143.54,382.67 L143.81,382.1 L144.08,381.52 L144.35,380.95 L144.61,380.37 L144.87,379.79 L145.12,379.2 L145.36,378.62 L145.61,378.03 L145.85,377.44 L146.08,376.85 L146.31,376.26 L146.54,375.67 L146.77,375.07 L146.99,374.47 L147.21,373.87 L147.42,373.27 L147.63,372.67 L147.84,372.07 L148.05,371.47 L148.25,370.86 L148.45,370.25 L148.65,369.64 L148.85,369.04 L149.05,368.43 L149.24,367.81 L149.43,367.2 L149.62,366.59 L149.81,365.98 L150,365.36 L150.19,364.75 L150.37,364.13 L150.56,363.51 L150.74,362.9 L150.93,362.28 L151.11,361.66 L151.29,361.04 L151.47,360.42 L151.66,359.8 L151.84,359.19 L152.02,358.57 L152.21,357.95 L152.39,357.33 L152.58,356.71 L152.76,356.09 L152.95,355.47 L153.14,354.85 L153.33,354.23 L153.52,353.61 L153.71,352.99 L153.9,352.38 L154.09,351.76 L154.29,351.14 L154.48,350.52 L154.68,349.91 L154.88,349.29 L155.08,348.67 L155.28,348.06 L155.48,347.44 L155.69,346.83 L155.89,346.21 L156.1,345.6 L156.31,344.99 L156.52,344.37 L156.73,343.76 L156.94,343.15 L157.15,342.53 L157.37,341.92 L157.58,341.31 L157.8,340.7 L158.02,340.09 L158.24,339.48 L158.46,338.88 L158.68,338.27 L158.91,337.66 L159.13,337.05 L159.36,336.45 L159.59,335.84 L159.82,335.24 L160.05,334.64 L160.29,334.03 L160.52,333.43 L160.76,332.83 L161,332.23 L161.24,331.63 L161.48,331.03 L161.72,330.43 L161.97,329.84 L162.22,329.24 L162.46,328.64 L162.71,328.05 L162.96,327.46 L163.22,326.86 L163.47,326.27 L163.73,325.68 L163.99,325.09 L164.25,324.5 L164.51,323.91 L164.77,323.33 L165.04,322.74 L165.31,322.16 L165.57,321.57 L165.85,320.99 L166.12,320.41 L166.39,319.83 L166.67,319.25 L166.95,318.67 L167.23,318.1 L167.51,317.52 L167.79,316.95 L168.08,316.37 L168.36,315.8 L168.65,315.23 L168.94,314.66 L169.24,314.09 L169.53,313.53 L169.83,312.96 L170.13,312.4 L170.43,311.83 L170.73,311.27 L171.04,310.71 L171.34,310.15 L171.65,309.6 L171.96,309.04 L172.28,308.49 L172.59,307.93 L172.91,307.38 L173.23,306.83 L173.55,306.28 L173.87,305.74 L174.2,305.19 L174.53,304.65 L174.86,304.11 L175.19,303.57 L175.52,303.03 L175.86,302.49 L176.2,301.95 L176.54,301.42 L176.88,300.89 L177.23,300.36 L177.58,299.83 L177.93,299.3 L178.28,298.77 L178.63,298.25 L178.99,297.73 L179.35,297.21 L179.71,296.69 L180.07,296.17 L180.44,295.66 L180.81,295.15 L181.18,294.64 L181.55,294.13 L181.92,293.62 L182.3,293.11 L182.68,292.61 L183.06,292.11 L183.45,291.61 L183.84,291.11 L184.23,290.62 L184.62,290.12 L185.01,289.63 L185.41,289.14 L185.81,288.65 L186.21,288.17 L186.62,287.69 L187.02,287.2 L187.43,286.73 L187.84,286.25 L188.26,285.77 L188.68,285.3 L189.1,284.83 L189.52,284.36 L189.94,283.9 L190.37,283.43 L190.8,282.97 L191.23,282.51 L191.67,282.06 L192.11,281.6 L192.55,281.15 L192.99,280.7 L193.44,280.25 L193.88,279.8 L194.34,279.36 L194.79,278.92 L195.24,278.48 L195.7,278.04 L196.16,277.6 L196.62,277.17 L197.09,276.74 L197.55,276.31 L198.02,275.88 L198.49,275.46 L198.97,275.03 L199.44,274.61 L199.92,274.19 L200.4,273.77 L200.88,273.36 L201.36,272.94 L201.85,272.53 L202.33,272.12 L202.82,271.71 L203.31,271.3 L203.8,270.89 L204.3,270.49 L204.79,270.09 L205.29,269.69 L205.79,269.29 L206.29,268.89 L206.79,268.49 L207.3,268.1 L207.8,267.71 L208.31,267.32 L208.82,266.93 L209.33,266.54 L209.84,266.15 L210.35,265.76 L210.87,265.38 L211.38,265 L211.9,264.62 L212.42,264.24 L212.94,263.86 L213.46,263.48 L213.98,263.1 L214.5,262.73 L215.02,262.36 L215.55,261.98 L216.08,261.61 L216.6,261.24 L217.13,260.87 L217.66,260.51 L218.19,260.14 L218.72,259.77 L219.25,259.41 L219.78,259.05 L220.32,258.69 L220.85,258.32 L221.38,257.96 L221.92,257.6 L222.46,257.25 L222.99,256.89 L223.53,256.53 L224.07,256.18 L224.61,255.82 L225.14,255.47 L225.68,255.12 L226.22,254.76 L226.76,254.41 L227.3,254.06 L227.85,253.71 L228.39,253.36 L228.93,253.02 L229.47,252.67 L230.01,252.32 L230.55,251.97 L231.1,251.63 L231.64,251.28 L232.18,250.94 L232.72,250.6 L233.27,250.25 L233.81,249.91 L234.35,249.57 L234.9,249.22 L235.44,248.88 L235.98,248.54 L236.52,248.2 L237.06,247.86 L237.61,247.52 L238.15,247.18 L238.69,246.84 L239.23,246.5 L239.77,246.17 L240.31,245.83 L240.85,245.49 L241.39,245.15 L241.93,244.81 L242.47,244.48 L243.01,244.14 L243.55,243.8 L244.08,243.47 L244.62,243.13 L245.15,242.79 L245.69,242.46 L246.22,242.12 L246.76,241.78 L247.29,241.45 L247.82,241.11 L248.35,240.77 L248.88,240.44 L249.41,240.1 L249.94,239.76 L250.47,239.43 L251,239.09 L251.52,238.75 L252.05,238.41 L252.57,238.08 L253.09,237.74 L253.61,237.4 L254.13,237.06 L254.65,236.72 L255.17,236.38 L255.68,236.05 L256.2,235.71 L256.71,235.37 L257.22,235.03" fill="none" stroke="#ff1010" stroke-width="1.8" stroke-linejoin="round" stroke-linecap="round" />
<path d="M29.02,408.26 L29.66,408.25 L30.3,408.24 L30.94,408.23 L31.57,408.22 L32.21,408.21 L32.85,408.2 L33.48,408.18 L34.11,408.17 L34.74,408.16 L35.38,408.14 L36.01,408.13 L36.63,408.12 L37.26,408.1 L37.89,408.09 L38.52,408.08 L39.14,408.06 L39.77,408.05 L40.39,408.04 L41.02,408.02 L41.64,408.01 L42.26,407.99 L42.88,407.98 L43.51,407.97 L44.13,407.95 L44.75,407.94 L45.37,407.93 L45.99,407.92 L46.61,407.9 L47.23,407.89 L47.85,407.88 L48.47,407.87 L49.09,407.86 L49.71,407.85 L50.33,407.84 L50.95,407.83 L51.57,407.83 L52.19,407.82 L52.81,407.81 L53.43,407.81 L54.05,407.8 L54.67,407.8 L55.29,407.79 L55.91,407.79 L56.53,407.79 L57.16,407.79 L57.78,407.79 L58.4,407.79 L59.03,407.79 L59.65,407.79 L60.28,407.79 L60.9,407.8 L61.53,407.8 L62.16,407.81 L62.79,407.82 L63.41,407.83 L64.04,407.84 L64.68,407.85 L65.31,407.86 L65.94,407.88 L66.58,407.89 L67.21,407.91 L67.85,407.93 L68.49,407.95 L69.12,407.97 L69.76,407.99 L70.41,408.02 L71.05,408.04 L71.69,408.07 L72.34,408.09 L72.98,408.12 L73.63,408.15 L74.27,408.17 L74.92,408.2 L75.57,408.23 L76.21,408.25 L76.86,408.28 L77.51,408.3 L78.16,408.33 L78.81,408.35 L79.46,408.37 L80.11,408.39 L80.75,408.41 L81.4,408.43 L82.05,408.44 L82.7,408.45 L83.35,408.46 L83.99,408.47 L84.64,408.47 L85.29,408.47 L85.93,408.47 L86.58,408.47 L87.22,408.46 L87.86,408.45 L88.5,408.43 L89.14,408.41 L89.78,408.39 L90.42,408.36 L91.06,408.33 L91.69,408.29 L92.33,408.25 L92.96,408.2 L93.59,408.15 L94.22,408.09 L94.85,408.03 L95.48,407.96 L96.1,407.88 L96.72,407.8 L97.34,407.72 L97.96,407.62 L98.58,407.52 L99.19,407.42 L99.8,407.3 L100.41,407.18 L101.02,407.05 L101.62,406.92 L102.22,406.77 L102.82,406.62 L103.41,406.47 L104,406.3 L104.59,406.13 L105.18,405.95 L105.76,405.76 L106.34,405.57 L106.91,405.36 L107.48,405.15 L108.05,404.94 L108.61,404.71 L109.17,404.48 L109.72,404.24 L110.27,403.99 L110.82,403.73 L111.36,403.47 L111.89,403.2 L112.42,402.92 L112.95,402.63 L113.47,402.33 L113.98,402.03 L114.49,401.72 L114.99,401.4 L115.49,401.07 L115.98,400.73 L116.47,400.39 L116.95,400.04 L117.42,399.68 L117.89,399.31 L118.35,398.93 L118.8,398.54 L119.25,398.15 L119.69,397.75 L120.12,397.34 L120.54,396.92 L120.96,396.49 L121.37,396.06 L121.78,395.61 L122.17,395.16 L122.56,394.7 L122.94,394.23 L123.31,393.75 L123.68,393.27 L124.04,392.78 L124.39,392.28 L124.74,391.78 L125.08,391.27 L125.41,390.75 L125.74,390.22 L126.06,389.7 L126.37,389.16 L126.68,388.62 L126.99,388.08 L127.28,387.53 L127.57,386.97 L127.86,386.41 L128.14,385.85 L128.42,385.29 L128.69,384.72 L128.95,384.15 L129.21,383.57 L129.47,382.99 L129.72,382.41 L129.97,381.83 L130.21,381.24 L130.45,380.66 L130.68,380.07 L130.92,379.48 L131.14,378.89 L131.37,378.3 L131.59,377.71 L131.8,377.11 L132.01,376.52 L132.22,375.92 L132.43,375.33 L132.63,374.73 L132.83,374.13 L133.03,373.53 L133.22,372.93 L133.41,372.33 L133.6,371.72 L133.79,371.12 L133.97,370.52 L134.15,369.91 L134.33,369.3 L134.51,368.7 L134.68,368.09 L134.86,367.48 L135.03,366.87 L135.19,366.27 L135.36,365.66 L135.53,365.04 L135.69,364.43 L135.85,363.82 L136.01,363.21 L136.17,362.6 L136.33,361.99 L136.49,361.37 L136.64,360.76 L136.8,360.15 L136.95,359.53 L137.11,358.92 L137.26,358.3 L137.41,357.69 L137.56,357.07 L137.72,356.46 L137.87,355.84 L138.02,355.23 L138.17,354.61 L138.32,354 L138.47,353.38 L138.62,352.77 L138.78,352.15 L138.93,351.54 L139.08,350.92 L139.23,350.31 L139.39,349.7 L139.54,349.08 L139.7,348.47 L139.85,347.85 L140.01,347.24 L140.17,346.63 L140.33,346.02 L140.49,345.4 L140.65,344.79 L140.82,344.18 L140.98,343.57 L141.15,342.96 L141.32,342.35 L141.49,341.74 L141.67,341.13 L141.84,340.53 L142.02,339.92 L142.2,339.31 L142.38,338.71 L142.56,338.1 L142.75,337.5 L142.94,336.89 L143.13,336.29 L143.32,335.69 L143.51,335.09 L143.71,334.49 L143.91,333.89 L144.11,333.29 L144.31,332.69 L144.51,332.09 L144.72,331.49 L144.93,330.9 L145.14,330.3 L145.35,329.71 L145.57,329.11 L145.78,328.52 L146,327.93 L146.22,327.34 L146.44,326.74 L146.67,326.16 L146.89,325.57 L147.12,324.98 L147.35,324.39 L147.59,323.8 L147.82,323.22 L148.06,322.63 L148.3,322.05 L148.54,321.47 L148.78,320.88 L149.02,320.3 L149.27,319.72 L149.52,319.14 L149.77,318.57 L150.02,317.99 L150.28,317.41 L150.53,316.84 L150.79,316.26 L151.05,315.69 L151.31,315.11 L151.58,314.54 L151.84,313.97 L152.11,313.4 L152.38,312.83 L152.65,312.26 L152.93,311.7 L153.2,311.13 L153.48,310.57 L153.76,310 L154.04,309.44 L154.32,308.88 L154.61,308.32 L154.89,307.76 L155.18,307.2 L155.47,306.64 L155.77,306.09 L156.06,305.53 L156.36,304.98 L156.66,304.42 L156.96,303.87 L157.26,303.32 L157.56,302.77 L157.87,302.22 L158.17,301.67 L158.48,301.13 L158.79,300.58 L159.11,300.04 L159.42,299.49 L159.74,298.95 L160.06,298.41 L160.38,297.87 L160.7,297.33 L161.02,296.8 L161.35,296.26 L161.68,295.72 L162,295.19 L162.34,294.66 L162.67,294.13 L163,293.6 L163.34,293.07 L163.68,292.54 L164.02,292.02 L164.36,291.49 L164.7,290.97 L165.05,290.45 L165.39,289.92 L165.74,289.4 L166.09,288.89 L166.45,288.37 L166.8,287.85 L167.15,287.34 L167.51,286.83 L167.87,286.31 L168.23,285.8 L168.59,285.29 L168.96,284.79 L169.32,284.28 L169.69,283.77 L170.06,283.27 L170.43,282.77 L170.81,282.27 L171.18,281.77 L171.56,281.27 L171.93,280.77 L172.31,280.28 L172.69,279.78 L173.08,279.29 L173.46,278.8 L173.85,278.31 L174.24,277.82 L174.63,277.34 L175.02,276.85 L175.41,276.37 L175.81,275.89 L176.2,275.41 L176.6,274.93 L177,274.45 L177.4,273.98 L177.81,273.5 L178.21,273.03 L178.62,272.56 L179.03,272.09 L179.44,271.62 L179.85,271.16 L180.27,270.7 L180.69,270.24 L181.11,269.78 L181.53,269.32 L181.95,268.86 L182.37,268.41 L182.8,267.96 L183.23,267.51 L183.66,267.06 L184.09,266.61 L184.53,266.17 L184.96,265.72 L185.4,265.28 L185.84,264.85 L186.28,264.41 L186.73,263.97 L187.17,263.54 L187.62,263.11 L188.07,262.68 L188.53,262.26 L188.98,261.83 L189.44,261.41 L189.9,260.99 L190.36,260.58 L190.82,260.16 L191.29,259.75 L191.75,259.34 L192.22,258.93 L192.7,258.52 L193.17,258.12 L193.65,257.72 L194.12,257.32 L194.61,256.92 L195.09,256.53 L195.57,256.14 L196.06,255.75 L196.55,255.36 L197.04,254.97 L197.54,254.59 L198.03,254.21 L198.53,253.84 L199.03,253.46 L199.53,253.09 L200.04,252.72 L200.55,252.35 L201.06,251.99 L201.57,251.63 L202.09,251.27 L202.6,250.91 L203.12,250.56 L203.64,250.21 L204.17,249.86 L204.7,249.51 L205.22,249.17 L205.76,248.83 L206.29,248.49 L206.82,248.15 L207.36,247.82 L207.9,247.48 L208.44,247.15 L208.98,246.82 L209.52,246.5 L210.07,246.17 L210.61,245.85 L211.16,245.52 L211.71,245.2 L212.26,244.88 L212.8,244.56 L213.36,244.24 L213.91,243.92 L214.46,243.6 L215.01,243.28 L215.56,242.97 L216.11,242.65 L216.67,242.33 L217.22,242.02 L217.77,241.7 L218.33,241.38 L218.88,241.07 L219.43,240.75 L219.98,240.43 L220.54,240.11 L221.09,239.79 L221.64,239.47 L222.19,239.15 L222.74,238.83 L223.28,238.51 L223.83,238.18 L224.38,237.86 L224.92,237.53 L225.46,237.2 L226,236.87 L226.55,236.54 L227.08,236.21 L227.62,235.87 L228.16,235.54 L228.69,235.2 L229.22,234.85 L229.75,234.51 L230.28,234.16 L230.8,233.81 L231.32,233.46 L231.84,233.11 L232.36,232.75 L232.88,232.39 L233.39,232.02 L233.9,231.66 L234.4,231.29 L234.91,230.91 L235.41,230.53 L235.9,230.15 L236.4,229.77 L236.89,229.38 L237.38,228.98 L237.86,228.59 L238.34,228.19 L238.81,227.78 L239.29,227.37 L239.75,226.96 L240.22,226.54 L240.68,226.11 L241.13,225.68 L241.58,225.25 L242.03,224.81" fill="none" stroke="#10ee10" stroke-width="1.8" stroke-linejoin="round" stroke-linecap="round" />
<path d="M29.12,408.21 L29.74,408.19 L30.35,408.16 L30.96,408.14 L31.57,408.12 L32.18,408.09 L32.79,408.07 L33.4,408.05 L34,408.03 L34.61,408.01 L35.21,407.99 L35.82,407.97 L36.42,407.95 L37.02,407.93 L37.62,407.92 L38.22,407.9 L38.82,407.88 L39.42,407.87 L40.02,407.85 L40.62,407.84 L41.22,407.82 L41.82,407.81 L42.42,407.8 L43.01,407.79 L43.61,407.77 L44.21,407.76 L44.81,407.75 L45.4,407.74 L46,407.73 L46.6,407.73 L47.2,407.72 L47.8,407.71 L48.4,407.7 L49,407.7 L49.6,407.69 L50.2,407.69 L50.8,407.68 L51.4,407.68 L52,407.68 L52.6,407.67 L53.21,407.67 L53.81,407.67 L54.42,407.67 L55.02,407.67 L55.63,407.67 L56.24,407.67 L56.85,407.67 L57.46,407.68 L58.07,407.68 L58.69,407.68 L59.3,407.69 L59.92,407.69 L60.53,407.7 L61.15,407.7 L61.77,407.71 L62.39,407.72 L63.02,407.72 L63.64,407.73 L64.27,407.74 L64.9,407.75 L65.53,407.76 L66.16,407.77 L66.79,407.78 L67.43,407.79 L68.07,407.8 L68.7,407.81 L69.34,407.82 L69.98,407.83 L70.62,407.84 L71.27,407.85 L71.91,407.85 L72.55,407.86 L73.19,407.86 L73.84,407.86 L74.48,407.86 L75.12,407.86 L75.76,407.86 L76.41,407.85 L77.05,407.84 L77.69,407.83 L78.33,407.82 L78.97,407.8 L79.61,407.78 L80.24,407.76 L80.88,407.73 L81.52,407.7 L82.15,407.67 L82.78,407.63 L83.41,407.59 L84.04,407.54 L84.67,407.49 L85.29,407.43 L85.91,407.37 L86.53,407.31 L87.15,407.24 L87.76,407.16 L88.37,407.08 L88.98,407 L89.59,406.9 L90.19,406.81 L90.79,406.7 L91.38,406.59 L91.98,406.47 L92.57,406.35 L93.15,406.22 L93.73,406.08 L94.31,405.94 L94.88,405.79 L95.45,405.63 L96.01,405.46 L96.57,405.29 L97.13,405.11 L97.67,404.92 L98.22,404.72 L98.76,404.51 L99.29,404.3 L99.82,404.07 L100.35,403.84 L100.86,403.6 L101.38,403.34 L101.88,403.09 L102.39,402.82 L102.88,402.54 L103.37,402.26 L103.86,401.96 L104.34,401.66 L104.81,401.35 L105.28,401.03 L105.75,400.71 L106.21,400.37 L106.66,400.03 L107.11,399.68 L107.56,399.33 L107.99,398.97 L108.43,398.6 L108.86,398.22 L109.28,397.83 L109.7,397.44 L110.12,397.05 L110.52,396.64 L110.93,396.23 L111.33,395.81 L111.72,395.39 L112.11,394.96 L112.5,394.52 L112.88,394.08 L113.26,393.63 L113.63,393.18 L114,392.72 L114.36,392.26 L114.72,391.79 L115.07,391.31 L115.42,390.83 L115.76,390.35 L116.11,389.85 L116.44,389.36 L116.77,388.86 L117.1,388.35 L117.42,387.85 L117.74,387.33 L118.06,386.81 L118.37,386.29 L118.67,385.77 L118.98,385.23 L119.27,384.7 L119.57,384.16 L119.86,383.62 L120.15,383.08 L120.43,382.53 L120.71,381.98 L120.98,381.42 L121.25,380.86 L121.52,380.3 L121.78,379.74 L122.04,379.17 L122.3,378.6 L122.55,378.03 L122.8,377.46 L123.04,376.88 L123.28,376.3 L123.52,375.72 L123.75,375.14 L123.98,374.56 L124.21,373.97 L124.43,373.38 L124.65,372.79 L124.87,372.2 L125.08,371.61 L125.29,371.02 L125.5,370.42 L125.7,369.83 L125.9,369.23 L126.1,368.63 L126.29,368.04 L126.49,367.44 L126.67,366.84 L126.86,366.24 L127.04,365.64 L127.22,365.04 L127.39,364.44 L127.57,363.84 L127.74,363.25 L127.9,362.65 L128.07,362.05 L128.23,361.45 L128.39,360.85 L128.55,360.25 L128.7,359.65 L128.86,359.05 L129.01,358.45 L129.16,357.85 L129.3,357.26 L129.45,356.66 L129.59,356.06 L129.73,355.46 L129.87,354.86 L130.01,354.26 L130.15,353.67 L130.28,353.07 L130.42,352.47 L130.55,351.87 L130.68,351.27 L130.82,350.68 L130.95,350.08 L131.08,349.48 L131.21,348.88 L131.33,348.29 L131.46,347.69 L131.59,347.09 L131.72,346.5 L131.84,345.9 L131.97,345.31 L132.09,344.71 L132.22,344.11 L132.35,343.52 L132.47,342.92 L132.6,342.33 L132.73,341.73 L132.85,341.14 L132.98,340.55 L133.11,339.95 L133.24,339.36 L133.37,338.77 L133.5,338.17 L133.63,337.58 L133.76,336.99 L133.89,336.4 L134.03,335.8 L134.16,335.21 L134.3,334.62 L134.44,334.03 L134.58,333.44 L134.72,332.85 L134.86,332.26 L135.01,331.67 L135.15,331.08 L135.3,330.49 L135.45,329.91 L135.6,329.32 L135.76,328.73 L135.91,328.14 L136.07,327.56 L136.24,326.97 L136.4,326.39 L136.57,325.8 L136.73,325.21 L136.91,324.63 L137.08,324.05 L137.26,323.46 L137.43,322.88 L137.62,322.3 L137.8,321.72 L137.99,321.14 L138.17,320.56 L138.37,319.98 L138.56,319.4 L138.76,318.82 L138.95,318.24 L139.16,317.66 L139.36,317.09 L139.56,316.51 L139.77,315.94 L139.98,315.36 L140.2,314.79 L140.41,314.22 L140.63,313.64 L140.85,313.07 L141.08,312.5 L141.3,311.94 L141.53,311.37 L141.76,310.8 L141.99,310.23 L142.23,309.67 L142.47,309.1 L142.71,308.54 L142.95,307.98 L143.2,307.42 L143.44,306.86 L143.7,306.3 L143.95,305.74 L144.2,305.19 L144.46,304.63 L144.72,304.08 L144.98,303.52 L145.25,302.97 L145.52,302.42 L145.79,301.87 L146.06,301.32 L146.34,300.77 L146.61,300.23 L146.89,299.68 L147.18,299.14 L147.46,298.6 L147.75,298.06 L148.04,297.52 L148.33,296.98 L148.63,296.45 L148.92,295.91 L149.22,295.38 L149.53,294.85 L149.83,294.32 L150.14,293.79 L150.45,293.26 L150.76,292.74 L151.08,292.21 L151.39,291.69 L151.71,291.17 L152.03,290.65 L152.36,290.13 L152.69,289.62 L153.02,289.1 L153.35,288.59 L153.68,288.08 L154.02,287.57 L154.36,287.06 L154.7,286.56 L155.05,286.06 L155.39,285.55 L155.74,285.05 L156.09,284.56 L156.45,284.06 L156.8,283.57 L157.16,283.07 L157.52,282.58 L157.89,282.09 L158.26,281.61 L158.62,281.12 L159,280.64 L159.37,280.16 L159.75,279.68 L160.13,279.21 L160.51,278.73 L160.89,278.26 L161.28,277.79 L161.67,277.32 L162.06,276.86 L162.45,276.39 L162.85,275.93 L163.25,275.47 L163.65,275.02 L164.05,274.56 L164.46,274.11 L164.87,273.66 L165.28,273.21 L165.69,272.77 L166.11,272.32 L166.53,271.88 L166.95,271.45 L167.37,271.01 L167.8,270.58 L168.22,270.15 L168.66,269.72 L169.09,269.29 L169.52,268.87 L169.96,268.45 L170.4,268.03 L170.85,267.61 L171.29,267.2 L171.74,266.79 L172.19,266.38 L172.64,265.98 L173.1,265.57 L173.56,265.17 L174.02,264.77 L174.48,264.38 L174.95,263.99 L175.41,263.6 L175.88,263.21 L176.35,262.82 L176.83,262.44 L177.3,262.06 L177.78,261.68 L178.26,261.3 L178.74,260.93 L179.22,260.55 L179.71,260.18 L180.2,259.81 L180.68,259.45 L181.18,259.08 L181.67,258.72 L182.16,258.36 L182.66,258 L183.15,257.64 L183.65,257.29 L184.15,256.93 L184.65,256.58 L185.16,256.23 L185.66,255.88 L186.17,255.53 L186.68,255.18 L187.18,254.84 L187.69,254.5 L188.2,254.15 L188.72,253.81 L189.23,253.47 L189.74,253.13 L190.26,252.8 L190.78,252.46 L191.29,252.13 L191.81,251.79 L192.33,251.46 L192.85,251.13 L193.37,250.8 L193.89,250.47 L194.41,250.14 L194.94,249.81 L195.46,249.49 L195.98,249.16 L196.51,248.84 L197.03,248.51 L197.56,248.19 L198.08,247.86 L198.61,247.54 L199.14,247.22 L199.66,246.9 L200.19,246.58 L200.72,246.26 L201.25,245.94 L201.77,245.62 L202.3,245.3 L202.83,244.98 L203.36,244.66 L203.89,244.34 L204.42,244.02 L204.94,243.7 L205.47,243.38 L206,243.06 L206.53,242.75 L207.05,242.43 L207.58,242.11 L208.11,241.79 L208.64,241.47 L209.16,241.15 L209.69,240.83 L210.21,240.52 L210.74,240.2 L211.26,239.88 L211.78,239.56 L212.31,239.24 L212.83,238.91 L213.35,238.59 L213.87,238.27 L214.39,237.95 L214.91,237.62 L215.43,237.3 L215.95,236.98 L216.46,236.65 L216.98,236.32 L217.49,236 L218.01,235.67 L218.52,235.34 L219.03,235.01 L219.54,234.68 L220.05,234.35 L220.56,234.02 L221.06,233.69 L221.57,233.35 L222.07,233.01 L222.57,232.68 L223.07,232.34 L223.57,232 L224.07,231.66 L224.57,231.32 L225.06,230.97 L225.55,230.63 L226.05,230.28 L226.54,229.94 L227.02,229.59 L227.51,229.24 L227.99,228.88 L228.47,228.53 L228.95,228.17 L229.43,227.82 L229.91,227.46 L230.38,227.1 L230.86,226.73 L231.33,226.37 L231.79,226 L232.26,225.63 L232.72,225.26" fill="none" stroke="#1010ff" stroke-width="1.8" stroke-linejoin="round" stroke-linecap="round" />
<path d="M29.3,406 L29.86,405.95 L30.42,405.9 L30.99,405.85 L31.56,405.8 L32.13,405.76 L32.7,405.71 L33.28,405.67 L33.85,405.63 L34.43,405.59 L35.01,405.55 L35.59,405.52 L36.17,405.48 L36.76,405.44 L37.34,405.41 L37.93,405.38 L38.52,405.35 L39.11,405.31 L39.7,405.28 L40.29,405.25 L40.89,405.22 L41.48,405.2 L42.08,405.17 L42.67,405.14 L43.27,405.11 L43.87,405.09 L44.47,405.06 L45.07,405.03 L45.67,405.01 L46.28,404.98 L46.88,404.96 L47.49,404.93 L48.09,404.9 L48.7,404.88 L49.3,404.85 L49.91,404.83 L50.52,404.8 L51.13,404.77 L51.74,404.74 L52.35,404.72 L52.96,404.69 L53.57,404.66 L54.18,404.63 L54.79,404.6 L55.41,404.57 L56.02,404.53 L56.63,404.5 L57.25,404.47 L57.86,404.43 L58.47,404.39 L59.09,404.36 L59.7,404.32 L60.32,404.28 L60.93,404.24 L61.54,404.19 L62.16,404.15 L62.77,404.1 L63.39,404.06 L64,404.01 L64.61,403.96 L65.23,403.91 L65.84,403.85 L66.45,403.8 L67.07,403.74 L67.68,403.68 L68.29,403.61 L68.9,403.55 L69.51,403.48 L70.12,403.42 L70.73,403.35 L71.34,403.27 L71.95,403.2 L72.56,403.12 L73.16,403.04 L73.77,402.95 L74.38,402.87 L74.98,402.78 L75.59,402.69 L76.19,402.59 L76.79,402.5 L77.39,402.4 L77.99,402.29 L78.59,402.19 L79.19,402.08 L79.79,401.97 L80.38,401.85 L80.98,401.73 L81.57,401.61 L82.16,401.48 L82.76,401.35 L83.35,401.22 L83.93,401.08 L84.52,400.94 L85.11,400.8 L85.69,400.65 L86.27,400.5 L86.85,400.34 L87.43,400.18 L88.01,400.02 L88.59,399.85 L89.16,399.68 L89.74,399.5 L90.31,399.32 L90.88,399.14 L91.44,398.95 L92.01,398.75 L92.57,398.56 L93.14,398.35 L93.7,398.15 L94.25,397.93 L94.81,397.72 L95.36,397.5 L95.92,397.27 L96.46,397.04 L97.01,396.8 L97.56,396.56 L98.1,396.31 L98.64,396.06 L99.18,395.8 L99.71,395.54 L100.25,395.27 L100.78,395 L101.31,394.72 L101.83,394.44 L102.36,394.15 L102.88,393.85 L103.39,393.55 L103.91,393.25 L104.42,392.94 L104.93,392.62 L105.44,392.3 L105.94,391.97 L106.44,391.64 L106.93,391.31 L107.43,390.97 L107.92,390.62 L108.4,390.27 L108.89,389.91 L109.36,389.55 L109.84,389.19 L110.31,388.82 L110.78,388.44 L111.24,388.06 L111.7,387.68 L112.16,387.29 L112.61,386.9 L113.06,386.5 L113.5,386.09 L113.94,385.69 L114.38,385.28 L114.81,384.86 L115.24,384.44 L115.66,384.01 L116.08,383.58 L116.49,383.15 L116.9,382.71 L117.3,382.27 L117.7,381.82 L118.09,381.37 L118.48,380.92 L118.87,380.46 L119.24,379.99 L119.62,379.53 L119.99,379.05 L120.35,378.58 L120.71,378.1 L121.06,377.62 L121.41,377.13 L121.75,376.64 L122.08,376.14 L122.41,375.65 L122.74,375.14 L123.05,374.64 L123.37,374.13 L123.68,373.61 L123.98,373.1 L124.28,372.58 L124.57,372.06 L124.86,371.53 L125.14,371 L125.42,370.47 L125.7,369.94 L125.97,369.4 L126.24,368.86 L126.5,368.32 L126.76,367.77 L127.01,367.23 L127.27,366.68 L127.52,366.13 L127.76,365.57 L128,365.02 L128.24,364.46 L128.48,363.9 L128.71,363.34 L128.94,362.78 L129.17,362.22 L129.39,361.65 L129.62,361.09 L129.84,360.52 L130.06,359.95 L130.27,359.38 L130.49,358.81 L130.7,358.24 L130.92,357.67 L131.13,357.1 L131.33,356.52 L131.54,355.95 L131.75,355.38 L131.96,354.8 L132.16,354.23 L132.36,353.65 L132.57,353.08 L132.77,352.51 L132.97,351.93 L133.18,351.36 L133.38,350.78 L133.58,350.21 L133.78,349.64 L133.99,349.07 L134.19,348.5 L134.39,347.92 L134.59,347.35 L134.79,346.78 L135,346.21 L135.2,345.64 L135.4,345.07 L135.6,344.5 L135.8,343.93 L136,343.37 L136.21,342.8 L136.41,342.23 L136.61,341.66 L136.81,341.1 L137.01,340.53 L137.21,339.96 L137.42,339.4 L137.62,338.83 L137.82,338.27 L138.02,337.71 L138.23,337.14 L138.43,336.58 L138.63,336.02 L138.84,335.46 L139.04,334.9 L139.24,334.33 L139.45,333.77 L139.65,333.21 L139.86,332.66 L140.06,332.1 L140.27,331.54 L140.47,330.98 L140.68,330.43 L140.89,329.87 L141.09,329.31 L141.3,328.76 L141.51,328.2 L141.72,327.65 L141.92,327.1 L142.13,326.54 L142.34,325.99 L142.55,325.44 L142.76,324.89 L142.97,324.34 L143.18,323.79 L143.4,323.24 L143.61,322.7 L143.82,322.15 L144.03,321.6 L144.25,321.06 L144.46,320.51 L144.68,319.97 L144.9,319.42 L145.11,318.88 L145.33,318.34 L145.55,317.8 L145.77,317.26 L145.99,316.72 L146.21,316.18 L146.43,315.64 L146.65,315.1 L146.87,314.56 L147.09,314.03 L147.32,313.49 L147.54,312.95 L147.77,312.42 L147.99,311.88 L148.22,311.35 L148.44,310.82 L148.67,310.28 L148.9,309.75 L149.13,309.22 L149.36,308.69 L149.59,308.15 L149.82,307.62 L150.05,307.09 L150.28,306.56 L150.52,306.03 L150.75,305.5 L150.98,304.97 L151.22,304.44 L151.45,303.91 L151.69,303.38 L151.93,302.85 L152.16,302.32 L152.4,301.79 L152.64,301.26 L152.88,300.73 L153.12,300.2 L153.36,299.67 L153.6,299.14 L153.85,298.61 L154.09,298.08 L154.33,297.55 L154.58,297.02 L154.82,296.49 L155.07,295.96 L155.31,295.43 L155.56,294.9 L155.81,294.37 L156.05,293.84 L156.3,293.3 L156.55,292.77 L156.8,292.24 L157.05,291.71 L157.3,291.17 L157.56,290.64 L157.81,290.1 L158.06,289.57 L158.32,289.03 L158.57,288.5 L158.83,287.96 L159.08,287.43 L159.34,286.9 L159.6,286.36 L159.86,285.83 L160.13,285.3 L160.39,284.76 L160.66,284.23 L160.92,283.7 L161.19,283.17 L161.46,282.64 L161.74,282.11 L162.01,281.59 L162.29,281.06 L162.57,280.54 L162.85,280.01 L163.13,279.49 L163.42,278.97 L163.71,278.45 L164,277.94 L164.29,277.42 L164.59,276.91 L164.89,276.4 L165.19,275.9 L165.49,275.39 L165.8,274.89 L166.11,274.39 L166.43,273.89 L166.75,273.39 L167.07,272.9 L167.39,272.41 L167.72,271.93 L168.05,271.44 L168.39,270.96 L168.72,270.49 L169.07,270.01 L169.41,269.54 L169.76,269.08 L170.12,268.61 L170.48,268.15 L170.84,267.7 L171.21,267.25 L171.58,266.8 L171.96,266.36 L172.34,265.92 L172.72,265.49 L173.11,265.06 L173.51,264.63 L173.91,264.21 L174.31,263.79 L174.72,263.38 L175.14,262.98 L175.56,262.58 L175.98,262.18 L176.41,261.79 L176.85,261.4 L177.29,261.02 L177.73,260.64 L178.18,260.27 L178.64,259.9 L179.09,259.53 L179.56,259.17 L180.02,258.81 L180.49,258.46 L180.97,258.11 L181.45,257.76 L181.93,257.42 L182.41,257.08 L182.9,256.75 L183.39,256.42 L183.89,256.09 L184.39,255.76 L184.89,255.44 L185.4,255.12 L185.91,254.81 L186.42,254.49 L186.93,254.18 L187.45,253.87 L187.97,253.57 L188.49,253.27 L189.02,252.97 L189.55,252.67 L190.08,252.37 L190.61,252.08 L191.14,251.78 L191.68,251.49 L192.21,251.2 L192.75,250.92 L193.29,250.63 L193.84,250.35 L194.38,250.07 L194.93,249.78 L195.47,249.5 L196.02,249.22 L196.57,248.95 L197.12,248.67 L197.67,248.39 L198.22,248.12 L198.77,247.84 L199.33,247.57 L199.88,247.3 L200.44,247.02 L200.99,246.75 L201.54,246.48 L202.1,246.2 L202.65,245.93 L203.21,245.66 L203.76,245.39 L204.32,245.11 L204.87,244.84 L205.42,244.57 L205.98,244.29 L206.53,244.02 L207.08,243.74 L207.63,243.46 L208.18,243.18 L208.73,242.91 L209.28,242.63 L209.82,242.34 L210.37,242.06 L210.91,241.78 L211.45,241.49 L211.99,241.21 L212.53,240.92 L213.07,240.63 L213.61,240.34 L214.14,240.04 L214.67,239.75 L215.2,239.45 L215.73,239.15 L216.25,238.85 L216.78,238.54 L217.3,238.23 L217.82,237.93 L218.33,237.61 L218.85,237.3 L219.36,236.98 L219.87,236.67 L220.38,236.34 L220.88,236.02 L221.39,235.69 L221.89,235.36 L222.38,235.03 L222.88,234.7 L223.37,234.36 L223.86,234.02 L224.35,233.67 L224.84,233.33 L225.32,232.97 L225.8,232.62 L226.28,232.26 L226.76,231.9 L227.23,231.54 L227.7,231.17 L228.17,230.8 L228.63,230.43 L229.09,230.05 L229.55,229.67 L230.01,229.28 L230.46,228.9 L230.91,228.5 L231.36,228.11 L231.8,227.71 L232.24,227.3 L232.68,226.89 L233.11,226.48 L233.55,226.06 L233.98,225.64 L234.4,225.22 L234.82,224.79" fill="none" stroke="#00f4fa" stroke-width="1.8" stroke-linejoin="round" stroke-linecap="round" />
<line x1="29" y1="247.66" x2="31" y2="247.66" stroke="#000" stroke-width="1.1" />
<line x1="29" y1="270.62" x2="32.4" y2="270.62" stroke="#000" stroke-width="1.1" />
<line x1="29" y1="293.59" x2="31" y2="293.59" stroke="#000" stroke-width="1.1" />
<line x1="29" y1="316.55" x2="32.4" y2="316.55" stroke="#000" stroke-width="1.1" />
<line x1="29" y1="339.51" x2="31" y2="339.51" stroke="#000" stroke-width="1.1" />
<line x1="29" y1="362.47" x2="32.4" y2="362.47" stroke="#000" stroke-width="1.1" />
<line x1="29" y1="385.44" x2="31" y2="385.44" stroke="#000" stroke-width="1.1" />
<line x1="57.52" y1="408.4" x2="57.52" y2="406.8" stroke="#000" stroke-width="1.1" />
<line x1="86.05" y1="408.4" x2="86.05" y2="405" stroke="#000" stroke-width="1.1" />
<line x1="114.57" y1="408.4" x2="114.57" y2="406.8" stroke="#000" stroke-width="1.1" />
<line x1="143.1" y1="408.4" x2="143.1" y2="405" stroke="#000" stroke-width="1.1" />
<line x1="171.62" y1="408.4" x2="171.62" y2="406.8" stroke="#000" stroke-width="1.1" />
<line x1="200.15" y1="408.4" x2="200.15" y2="405" stroke="#000" stroke-width="1.1" />
<line x1="228.67" y1="408.4" x2="228.67" y2="406.8" stroke="#000" stroke-width="1.1" />
<line x1="257.2" y1="408.4" x2="257.2" y2="405" stroke="#000" stroke-width="1.1" />
<text x="28.85" y="420.7" font-size="10" font-weight="bold" text-anchor="middle" fill="#000"  letter-spacing="-0.3">2.2</text>
<text x="85.9" y="420.7" font-size="10" font-weight="bold" text-anchor="middle" fill="#000"  letter-spacing="-0.3">2.3</text>
<text x="142.95" y="420.7" font-size="10" font-weight="bold" text-anchor="middle" fill="#000"  letter-spacing="-0.3">2.4</text>
<text x="200" y="420.7" font-size="10" font-weight="bold" text-anchor="middle" fill="#000"  letter-spacing="-0.3">2.5</text>
<text x="257.05" y="420.7" font-size="10" font-weight="bold" text-anchor="middle" fill="#000"  letter-spacing="-0.3">2.6</text>
<line x1="214.5" y1="346.9" x2="236.6" y2="346.9" stroke="#000000" stroke-width="1.4" />
<text x="239.5" y="350.5" font-size="9.5" font-weight="bold" text-anchor="start" fill="#000" >S1</text>
<line x1="214.5" y1="359.05" x2="236.6" y2="359.05" stroke="#ff1010" stroke-width="1.4" />
<text x="239.5" y="362.65" font-size="9.5" font-weight="bold" text-anchor="start" fill="#000" >S2</text>
<line x1="214.5" y1="371.2" x2="236.6" y2="371.2" stroke="#10ee10" stroke-width="1.4" />
<text x="239.5" y="374.8" font-size="9.5" font-weight="bold" text-anchor="start" fill="#000" >S3</text>
<line x1="214.5" y1="383.35" x2="236.6" y2="383.35" stroke="#1010ff" stroke-width="1.4" />
<text x="239.5" y="386.95" font-size="9.5" font-weight="bold" text-anchor="start" fill="#000" >S4</text>
<line x1="214.5" y1="395.5" x2="236.6" y2="395.5" stroke="#00f4fa" stroke-width="1.4" />
<text x="239.5" y="399.1" font-size="9.5" font-weight="bold" text-anchor="start" fill="#000" >S5</text>
<text x="146" y="433.6" font-size="12" font-weight="bold" text-anchor="middle" fill="#000" >Energy (eV)</text>
<text x="0" y="0" font-size="13.2" font-weight="bold" text-anchor="middle" transform="translate(17.6 316.6) rotate(-90)"><tspan font-family="'Liberation Serif', serif" font-weight="normal">(αhυ)</tspan><tspan dy="-4.8" font-size="8.8">2</tspan><tspan dy="4.8"> (a.u.)</tspan></text>
<text x="9" y="233.6" font-size="12" font-weight="bold" text-anchor="start" fill="#000" >(c)</text>
<line x1="332.7" y1="369.5" x2="343.7" y2="369.5" stroke="#555" stroke-width="1.2" />
<line x1="332.7" y1="367.2" x2="332.7" y2="371.8" stroke="#555" stroke-width="1.2" />
<line x1="343.7" y1="367.2" x2="343.7" y2="371.8" stroke="#555" stroke-width="1.2" />
<rect x="334.9" y="366.2" width="6.6" height="6.6" fill="#505050"/>
<line x1="351" y1="348.2" x2="361" y2="348.2" stroke="#555" stroke-width="1.2" />
<line x1="351" y1="345.9" x2="351" y2="350.5" stroke="#555" stroke-width="1.2" />
<line x1="361" y1="345.9" x2="361" y2="350.5" stroke="#555" stroke-width="1.2" />
<rect x="352.7" y="344.9" width="6.6" height="6.6" fill="#505050"/>
<line x1="357.8" y1="332.7" x2="368.8" y2="332.7" stroke="#555" stroke-width="1.2" />
<line x1="357.8" y1="330.4" x2="357.8" y2="335" stroke="#555" stroke-width="1.2" />
<line x1="368.8" y1="330.4" x2="368.8" y2="335" stroke="#555" stroke-width="1.2" />
<rect x="360" y="329.4" width="6.6" height="6.6" fill="#505050"/>
<line x1="374.5" y1="312.4" x2="394.5" y2="312.4" stroke="#555" stroke-width="1.2" />
<line x1="374.5" y1="310.1" x2="374.5" y2="314.7" stroke="#555" stroke-width="1.2" />
<line x1="394.5" y1="310.1" x2="394.5" y2="314.7" stroke="#555" stroke-width="1.2" />
<rect x="381.2" y="309.1" width="6.6" height="6.6" fill="#505050"/>
<line x1="442.4" y1="280.1" x2="472.4" y2="280.1" stroke="#555" stroke-width="1.2" />
<line x1="442.4" y1="277.8" x2="442.4" y2="282.4" stroke="#555" stroke-width="1.2" />
<line x1="472.4" y1="277.8" x2="472.4" y2="282.4" stroke="#555" stroke-width="1.2" />
<rect x="454.1" y="276.8" width="6.6" height="6.6" fill="#505050"/>
<line x1="333.6" y1="353.1" x2="342.8" y2="353.1" stroke="#ff5050" stroke-width="1.2" />
<line x1="333.6" y1="350.8" x2="333.6" y2="355.4" stroke="#ff5050" stroke-width="1.2" />
<line x1="342.8" y1="350.8" x2="342.8" y2="355.4" stroke="#ff5050" stroke-width="1.2" />
<circle cx="338.2" cy="353.1" r="3.6" fill="#ff5a5a"/>
<line x1="351" y1="348.2" x2="361" y2="348.2" stroke="#ff5050" stroke-width="1.2" />
<line x1="351" y1="345.9" x2="351" y2="350.5" stroke="#ff5050" stroke-width="1.2" />
<line x1="361" y1="345.9" x2="361" y2="350.5" stroke="#ff5050" stroke-width="1.2" />
<circle cx="356" cy="348.2" r="3.6" fill="#ff5a5a"/>
<line x1="357.7" y1="339.5" x2="368.9" y2="339.5" stroke="#ff5050" stroke-width="1.2" />
<line x1="357.7" y1="337.2" x2="357.7" y2="341.8" stroke="#ff5050" stroke-width="1.2" />
<line x1="368.9" y1="337.2" x2="368.9" y2="341.8" stroke="#ff5050" stroke-width="1.2" />
<circle cx="363.3" cy="339.5" r="3.6" fill="#ff5a5a"/>
<line x1="374.6" y1="329.5" x2="393.8" y2="329.5" stroke="#ff5050" stroke-width="1.2" />
<line x1="374.6" y1="327.2" x2="374.6" y2="331.8" stroke="#ff5050" stroke-width="1.2" />
<line x1="393.8" y1="327.2" x2="393.8" y2="331.8" stroke="#ff5050" stroke-width="1.2" />
<circle cx="384.2" cy="329.5" r="3.6" fill="#ff5a5a"/>
<line x1="442.4" y1="323.4" x2="472.4" y2="323.4" stroke="#ff5050" stroke-width="1.2" />
<line x1="442.4" y1="321.1" x2="442.4" y2="325.7" stroke="#ff5050" stroke-width="1.2" />
<line x1="472.4" y1="321.1" x2="472.4" y2="325.7" stroke="#ff5050" stroke-width="1.2" />
<circle cx="457.4" cy="323.4" r="3.6" fill="#ff5a5a"/>
<path d="M311.2,406.6 L451.1,223.4" fill="none" stroke="#000" stroke-width="1.5" stroke-linejoin="round" stroke-linecap="butt" stroke-dasharray="6.2 6.2"/>
<path d="M310.7,367.3 L539.3,254.4" fill="none" stroke="#ff0000" stroke-width="1.5" stroke-linejoin="round" stroke-linecap="butt" stroke-dasharray="6.2 6.2"/>
<rect x="310.7" y="222.8" width="228.6" height="184.1" fill="none" stroke="#000" stroke-width="1.3"/>
<line x1="310.7" y1="375.97" x2="314.3" y2="375.97" stroke="#000" stroke-width="1.1" />
<line x1="310.7" y1="345.33" x2="312.7" y2="345.33" stroke="#000" stroke-width="1.1" />
<line x1="310.7" y1="314.7" x2="314.3" y2="314.7" stroke="#000" stroke-width="1.1" />
<line x1="310.7" y1="284.07" x2="312.7" y2="284.07" stroke="#000" stroke-width="1.1" />
<line x1="310.7" y1="253.43" x2="314.3" y2="253.43" stroke="#000" stroke-width="1.1" />
<text x="309" y="378.27" font-size="10" font-weight="normal" text-anchor="end" fill="#000" stroke="#000" stroke-width="0.45" letter-spacing="-0.3">2.3</text>
<text x="309" y="317" font-size="10" font-weight="normal" text-anchor="end" fill="#000" stroke="#000" stroke-width="0.45" letter-spacing="-0.3">2.4</text>
<text x="309" y="255.73" font-size="10" font-weight="normal" text-anchor="end" fill="#000" stroke="#000" stroke-width="0.45" letter-spacing="-0.3">2.5</text>
<line x1="325.94" y1="406.9" x2="325.94" y2="403.1" stroke="#000" stroke-width="1.1" />
<line x1="341.18" y1="406.9" x2="341.18" y2="404.9" stroke="#000" stroke-width="1.1" />
<line x1="356.42" y1="406.9" x2="356.42" y2="403.1" stroke="#000" stroke-width="1.1" />
<line x1="371.66" y1="406.9" x2="371.66" y2="404.9" stroke="#000" stroke-width="1.1" />
<line x1="386.9" y1="406.9" x2="386.9" y2="403.1" stroke="#000" stroke-width="1.1" />
<line x1="402.14" y1="406.9" x2="402.14" y2="404.9" stroke="#000" stroke-width="1.1" />
<line x1="417.38" y1="406.9" x2="417.38" y2="403.1" stroke="#000" stroke-width="1.1" />
<line x1="432.62" y1="406.9" x2="432.62" y2="404.9" stroke="#000" stroke-width="1.1" />
<line x1="447.86" y1="406.9" x2="447.86" y2="403.1" stroke="#000" stroke-width="1.1" />
<line x1="463.1" y1="406.9" x2="463.1" y2="404.9" stroke="#000" stroke-width="1.1" />
<line x1="478.34" y1="406.9" x2="478.34" y2="403.1" stroke="#000" stroke-width="1.1" />
<line x1="493.58" y1="406.9" x2="493.58" y2="404.9" stroke="#000" stroke-width="1.1" />
<line x1="508.82" y1="406.9" x2="508.82" y2="403.1" stroke="#000" stroke-width="1.1" />
<line x1="524.06" y1="406.9" x2="524.06" y2="404.9" stroke="#000" stroke-width="1.1" />
<text x="325.79" y="418.2" font-size="10" font-weight="normal" text-anchor="middle" fill="#000" stroke="#000" stroke-width="0.3" letter-spacing="-0.3">0.1</text>
<text x="356.27" y="418.2" font-size="10" font-weight="normal" text-anchor="middle" fill="#000" stroke="#000" stroke-width="0.3" letter-spacing="-0.3">0.2</text>
<text x="386.75" y="418.2" font-size="10" font-weight="normal" text-anchor="middle" fill="#000" stroke="#000" stroke-width="0.3" letter-spacing="-0.3">0.3</text>
<text x="417.23" y="418.2" font-size="10" font-weight="normal" text-anchor="middle" fill="#000" stroke="#000" stroke-width="0.3" letter-spacing="-0.3">0.4</text>
<text x="447.71" y="418.2" font-size="10" font-weight="normal" text-anchor="middle" fill="#000" stroke="#000" stroke-width="0.3" letter-spacing="-0.3">0.5</text>
<text x="478.19" y="418.2" font-size="10" font-weight="normal" text-anchor="middle" fill="#000" stroke="#000" stroke-width="0.3" letter-spacing="-0.3">0.6</text>
<text x="508.67" y="418.2" font-size="10" font-weight="normal" text-anchor="middle" fill="#000" stroke="#000" stroke-width="0.3" letter-spacing="-0.3">0.7</text>
<text x="539.15" y="418.2" font-size="10" font-weight="normal" text-anchor="middle" fill="#000" stroke="#000" stroke-width="0.3" letter-spacing="-0.3">0.8</text>
<text x="386.2" y="432.6" font-size="12" text-anchor="start">R<tspan dy="-6.2" font-size="7.2">-2/3</tspan><tspan dy="6.2">(nm</tspan><tspan dy="-6.2" font-size="7.2">-2/3</tspan><tspan dy="6.2">)</tspan></text>
<text x="286.6" y="311.4" font-size="12.1" font-weight="bold" text-anchor="middle" fill="#000" transform="rotate(-90 286.6 311.4)">Energy(eV)</text>
<text x="278" y="230.4" font-size="12.4" font-weight="normal" text-anchor="start" fill="#000" stroke="#000" stroke-width="0.25">(d)</text>
<rect x="498.5" y="233.8" width="6.6" height="6.6" fill="#505050"/>
<circle cx="501.7" cy="249.9" r="3.7" fill="#ff5a5a"/>
<text x="512" y="239.8" font-size="9.5" font-weight="bold" text-anchor="start" fill="#000" >PL</text>
<text x="512" y="252.8" font-size="9.5" font-weight="bold" text-anchor="start" fill="#000" >Abs</text>
</g></svg>
</body></html>
